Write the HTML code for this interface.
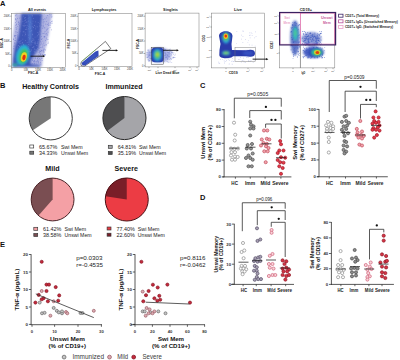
<!DOCTYPE html>
<html><head><meta charset="utf-8"><style>
html,body{margin:0;padding:0;background:#fff;}
svg{display:block;}
text{font-family:"Liberation Sans",sans-serif;}
</style></head><body>
<svg width="400" height="360" viewBox="0 0 400 360">
<defs>
<filter id="b1" x="-20%" y="-20%" width="140%" height="140%"><feGaussianBlur stdDeviation="1.2"/></filter>
<filter id="b2" x="-30%" y="-30%" width="160%" height="160%"><feGaussianBlur stdDeviation="0.8"/></filter>
<filter id="b3" x="-30%" y="-30%" width="160%" height="160%"><feGaussianBlur stdDeviation="0.5"/></filter>
<filter id="b4" x="-20%" y="-20%" width="140%" height="140%"><feGaussianBlur stdDeviation="0.9"/></filter>
</defs>
<rect width="400" height="360" fill="#fff"/>
<text x="0" y="6" font-size="7.5" font-weight="bold" text-anchor="start" fill="#111" >A</text>
<text x="0" y="88" font-size="7.5" font-weight="bold" text-anchor="start" fill="#111" >B</text>
<text x="200.1" y="88" font-size="7.5" font-weight="bold" text-anchor="start" fill="#111" >C</text>
<text x="200.1" y="200.3" font-size="7.5" font-weight="bold" text-anchor="start" fill="#111" >D</text>
<text x="0" y="247.4" font-size="7.5" font-weight="bold" text-anchor="start" fill="#111" >E</text>
<text x="28" y="11.2" font-size="4.4" font-weight="bold" textLength="18.20" lengthAdjust="spacingAndGlyphs" fill="#222">All events</text>
<g filter="url(#b1)">
<path d="M15,13.5 L52.5,13.5 L50,25 L48.75,35 L46,47 L44,53 L42.5,60 L42,66.8 L12.3,66.8 L12.3,50 L13,35 L15,20 Z" fill="#b0b4e2"/>
</g><g filter="url(#b4)">
<path d="M21.2,13.5 L42,13.5 L41,25 L40,40 L38.5,49 L34,55.5 L31,60 L30.5,64 L40,65.3 L40,66.8 L13,66.8 L13,60 L15,47 L18.7,35 L21,20 Z" fill="#3e56b6"/>
</g>
<path d="M42.5,27.6h0.7v0.7h-0.7zM45.6,33.8h0.7v0.7h-0.7zM41.5,49.9h0.7v0.7h-0.7zM38.2,62.3h0.7v0.7h-0.7zM15.6,14.6h0.7v0.7h-0.7zM17.2,41.5h0.7v0.7h-0.7zM49.4,14.0h0.7v0.7h-0.7zM42.5,40.8h0.7v0.7h-0.7zM39.6,55.4h0.7v0.7h-0.7zM40.9,56.2h0.7v0.7h-0.7zM15.2,25.4h0.7v0.7h-0.7zM17.7,40.7h0.7v0.7h-0.7zM43.4,20.8h0.7v0.7h-0.7zM38.3,33.3h0.7v0.7h-0.7zM41.1,50.5h0.7v0.7h-0.7zM33.6,57.8h0.7v0.7h-0.7zM16.3,23.7h0.7v0.7h-0.7zM14.4,35.3h0.7v0.7h-0.7zM50.2,22.9h0.7v0.7h-0.7zM44.4,32.8h0.7v0.7h-0.7zM44.9,54.5h0.7v0.7h-0.7zM32.3,58.7h0.7v0.7h-0.7zM19.3,28.9h0.7v0.7h-0.7zM17.7,41.3h0.7v0.7h-0.7zM50.1,24.7h0.7v0.7h-0.7zM41.0,38.8h0.7v0.7h-0.7zM44.2,54.3h0.7v0.7h-0.7zM36.6,60.7h0.7v0.7h-0.7zM15.2,19.1h0.7v0.7h-0.7zM17.0,41.2h0.7v0.7h-0.7zM42.9,22.8h0.7v0.7h-0.7zM45.0,40.1h0.7v0.7h-0.7zM40.6,49.8h0.7v0.7h-0.7zM36.6,62.2h0.7v0.7h-0.7zM18.1,22.3h0.7v0.7h-0.7zM15.4,35.4h0.7v0.7h-0.7zM41.5,25.3h0.7v0.7h-0.7zM47.8,38.9h0.7v0.7h-0.7zM40.8,46.9h0.7v0.7h-0.7zM36.5,63.9h0.7v0.7h-0.7zM19.6,25.3h0.7v0.7h-0.7zM17.3,38.5h0.7v0.7h-0.7zM46.7,29.2h0.7v0.7h-0.7zM43.8,36.9h0.7v0.7h-0.7zM39.9,51.0h0.7v0.7h-0.7zM41.5,56.0h0.7v0.7h-0.7zM19.7,31.2h0.7v0.7h-0.7zM17.4,46.1h0.7v0.7h-0.7zM49.9,22.3h0.7v0.7h-0.7zM43.6,36.4h0.7v0.7h-0.7zM38.4,54.6h0.7v0.7h-0.7zM37.3,57.6h0.7v0.7h-0.7zM18.0,24.2h0.7v0.7h-0.7zM14.8,40.2h0.7v0.7h-0.7zM46.9,24.0h0.7v0.7h-0.7zM44.1,36.9h0.7v0.7h-0.7zM38.2,47.5h0.7v0.7h-0.7zM32.9,60.7h0.7v0.7h-0.7zM20.2,30.8h0.7v0.7h-0.7zM17.0,47.2h0.7v0.7h-0.7zM43.8,27.5h0.7v0.7h-0.7zM44.7,31.2h0.7v0.7h-0.7zM38.1,45.2h0.7v0.7h-0.7zM39.3,58.0h0.7v0.7h-0.7zM15.7,27.1h0.7v0.7h-0.7zM14.7,36.0h0.7v0.7h-0.7zM42.8,22.4h0.7v0.7h-0.7zM39.7,34.1h0.7v0.7h-0.7zM43.0,50.0h0.7v0.7h-0.7zM34.5,59.8h0.7v0.7h-0.7zM15.1,22.1h0.7v0.7h-0.7zM15.1,37.8h0.7v0.7h-0.7zM42.2,28.4h0.7v0.7h-0.7zM43.1,33.1h0.7v0.7h-0.7zM42.2,54.0h0.7v0.7h-0.7zM31.2,56.1h0.7v0.7h-0.7zM15.9,29.1h0.7v0.7h-0.7zM13.8,45.6h0.7v0.7h-0.7zM48.5,22.7h0.7v0.7h-0.7zM40.2,44.6h0.7v0.7h-0.7zM43.6,50.7h0.7v0.7h-0.7zM33.5,61.2h0.7v0.7h-0.7zM17.4,26.1h0.7v0.7h-0.7zM14.6,44.5h0.7v0.7h-0.7zM41.6,18.8h0.7v0.7h-0.7zM47.7,43.1h0.7v0.7h-0.7zM40.1,54.4h0.7v0.7h-0.7zM34.4,63.5h0.7v0.7h-0.7zM19.5,22.7h0.7v0.7h-0.7zM14.3,35.1h0.7v0.7h-0.7zM50.7,14.6h0.7v0.7h-0.7zM46.2,44.4h0.7v0.7h-0.7zM42.0,46.9h0.7v0.7h-0.7zM40.5,63.8h0.7v0.7h-0.7zM19.2,24.7h0.7v0.7h-0.7zM14.9,40.2h0.7v0.7h-0.7zM43.3,24.8h0.7v0.7h-0.7zM42.3,32.9h0.7v0.7h-0.7zM38.7,52.3h0.7v0.7h-0.7zM34.3,60.0h0.7v0.7h-0.7zM17.0,32.3h0.7v0.7h-0.7zM17.5,35.3h0.7v0.7h-0.7zM43.2,19.2h0.7v0.7h-0.7zM47.9,41.7h0.7v0.7h-0.7zM40.4,47.3h0.7v0.7h-0.7zM38.4,62.7h0.7v0.7h-0.7zM20.6,21.2h0.7v0.7h-0.7zM17.4,45.3h0.7v0.7h-0.7zM46.3,29.8h0.7v0.7h-0.7zM40.3,40.9h0.7v0.7h-0.7zM38.6,46.9h0.7v0.7h-0.7zM41.0,57.7h0.7v0.7h-0.7zM19.6,26.6h0.7v0.7h-0.7zM17.2,40.5h0.7v0.7h-0.7zM44.7,18.7h0.7v0.7h-0.7zM46.7,39.1h0.7v0.7h-0.7zM44.7,54.8h0.7v0.7h-0.7zM32.5,60.4h0.7v0.7h-0.7zM15.6,14.8h0.7v0.7h-0.7zM13.4,48.0h0.7v0.7h-0.7zM49.7,27.3h0.7v0.7h-0.7zM41.4,39.2h0.7v0.7h-0.7zM43.5,49.2h0.7v0.7h-0.7zM37.3,57.8h0.7v0.7h-0.7zM15.5,19.6h0.7v0.7h-0.7zM17.5,43.5h0.7v0.7h-0.7zM51.2,21.3h0.7v0.7h-0.7zM40.8,41.8h0.7v0.7h-0.7zM43.8,45.1h0.7v0.7h-0.7zM38.4,56.7h0.7v0.7h-0.7zM15.7,32.6h0.7v0.7h-0.7zM13.2,38.6h0.7v0.7h-0.7zM51.9,20.7h0.7v0.7h-0.7zM39.2,32.5h0.7v0.7h-0.7zM39.7,53.2h0.7v0.7h-0.7zM32.1,63.3h0.7v0.7h-0.7zM17.3,34.4h0.7v0.7h-0.7zM17.5,39.4h0.7v0.7h-0.7zM43.8,21.6h0.7v0.7h-0.7zM39.0,39.8h0.7v0.7h-0.7zM38.3,45.1h0.7v0.7h-0.7zM41.8,58.4h0.7v0.7h-0.7zM18.6,23.4h0.7v0.7h-0.7zM14.6,35.9h0.7v0.7h-0.7zM51.0,29.5h0.7v0.7h-0.7zM47.7,31.7h0.7v0.7h-0.7zM39.5,51.8h0.7v0.7h-0.7zM41.8,60.3h0.7v0.7h-0.7zM19.1,27.9h0.7v0.7h-0.7zM14.3,43.1h0.7v0.7h-0.7zM44.4,17.9h0.7v0.7h-0.7zM38.8,34.2h0.7v0.7h-0.7zM44.9,49.9h0.7v0.7h-0.7zM38.2,61.1h0.7v0.7h-0.7zM20.6,22.2h0.7v0.7h-0.7zM14.5,39.9h0.7v0.7h-0.7zM44.5,27.6h0.7v0.7h-0.7zM46.9,34.5h0.7v0.7h-0.7zM40.3,51.0h0.7v0.7h-0.7zM37.4,60.8h0.7v0.7h-0.7zM16.5,14.4h0.7v0.7h-0.7zM14.2,36.1h0.7v0.7h-0.7zM47.1,15.1h0.7v0.7h-0.7zM38.8,39.5h0.7v0.7h-0.7zM40.0,53.7h0.7v0.7h-0.7zM36.4,62.9h0.7v0.7h-0.7zM15.9,24.5h0.7v0.7h-0.7zM17.0,36.2h0.7v0.7h-0.7zM51.4,16.8h0.7v0.7h-0.7zM45.8,44.8h0.7v0.7h-0.7zM43.8,48.5h0.7v0.7h-0.7zM32.2,60.1h0.7v0.7h-0.7zM20.5,20.2h0.7v0.7h-0.7zM17.5,37.1h0.7v0.7h-0.7zM51.0,14.5h0.7v0.7h-0.7zM41.2,43.5h0.7v0.7h-0.7zM43.6,55.0h0.7v0.7h-0.7zM40.2,62.0h0.7v0.7h-0.7zM19.1,17.7h0.7v0.7h-0.7zM15.2,37.4h0.7v0.7h-0.7zM48.9,24.7h0.7v0.7h-0.7zM40.5,31.0h0.7v0.7h-0.7zM44.7,53.9h0.7v0.7h-0.7zM37.0,60.3h0.7v0.7h-0.7zM20.1,23.5h0.7v0.7h-0.7zM15.0,40.1h0.7v0.7h-0.7zM43.8,14.4h0.7v0.7h-0.7zM44.5,36.3h0.7v0.7h-0.7zM42.0,45.7h0.7v0.7h-0.7zM34.9,57.1h0.7v0.7h-0.7zM15.8,19.4h0.7v0.7h-0.7zM17.1,41.0h0.7v0.7h-0.7zM45.4,23.8h0.7v0.7h-0.7zM40.3,30.1h0.7v0.7h-0.7zM41.7,50.5h0.7v0.7h-0.7zM38.1,59.5h0.7v0.7h-0.7zM19.1,29.4h0.7v0.7h-0.7zM14.2,42.4h0.7v0.7h-0.7zM46.3,17.6h0.7v0.7h-0.7zM42.1,38.4h0.7v0.7h-0.7zM44.3,55.1h0.7v0.7h-0.7zM34.0,61.2h0.7v0.7h-0.7zM15.3,15.5h0.7v0.7h-0.7zM15.6,48.2h0.7v0.7h-0.7zM42.8,26.3h0.7v0.7h-0.7zM46.8,34.7h0.7v0.7h-0.7zM42.8,54.3h0.7v0.7h-0.7zM35.1,61.6h0.7v0.7h-0.7zM19.4,26.5h0.7v0.7h-0.7zM17.3,48.4h0.7v0.7h-0.7zM51.6,23.1h0.7v0.7h-0.7zM39.8,33.8h0.7v0.7h-0.7zM39.5,51.3h0.7v0.7h-0.7zM39.3,56.4h0.7v0.7h-0.7zM19.1,29.1h0.7v0.7h-0.7zM14.7,42.7h0.7v0.7h-0.7zM42.8,25.7h0.7v0.7h-0.7zM38.4,44.7h0.7v0.7h-0.7zM43.7,51.9h0.7v0.7h-0.7zM33.9,63.3h0.7v0.7h-0.7zM20.8,16.9h0.7v0.7h-0.7zM16.9,47.6h0.7v0.7h-0.7zM48.3,25.2h0.7v0.7h-0.7zM42.5,43.9h0.7v0.7h-0.7zM44.8,49.2h0.7v0.7h-0.7zM39.8,59.5h0.7v0.7h-0.7zM16.0,20.8h0.7v0.7h-0.7zM13.6,48.6h0.7v0.7h-0.7zM51.6,15.9h0.7v0.7h-0.7zM44.0,36.1h0.7v0.7h-0.7zM38.8,48.3h0.7v0.7h-0.7zM33.7,62.0h0.7v0.7h-0.7zM15.0,18.0h0.7v0.7h-0.7zM15.2,35.3h0.7v0.7h-0.7zM47.9,23.7h0.7v0.7h-0.7zM46.4,33.1h0.7v0.7h-0.7zM40.0,51.0h0.7v0.7h-0.7zM34.0,60.7h0.7v0.7h-0.7zM16.5,28.4h0.7v0.7h-0.7zM17.0,47.1h0.7v0.7h-0.7zM51.7,22.7h0.7v0.7h-0.7zM42.9,42.8h0.7v0.7h-0.7zM43.4,51.3h0.7v0.7h-0.7zM35.2,58.3h0.7v0.7h-0.7zM15.6,31.0h0.7v0.7h-0.7zM13.6,46.2h0.7v0.7h-0.7zM47.0,29.4h0.7v0.7h-0.7zM45.6,44.6h0.7v0.7h-0.7zM39.0,50.5h0.7v0.7h-0.7zM37.3,58.5h0.7v0.7h-0.7zM18.0,21.5h0.7v0.7h-0.7zM15.6,35.0h0.7v0.7h-0.7zM45.9,21.2h0.7v0.7h-0.7zM41.0,36.0h0.7v0.7h-0.7zM43.5,52.5h0.7v0.7h-0.7zM36.4,61.2h0.7v0.7h-0.7zM17.3,18.3h0.7v0.7h-0.7zM13.0,39.2h0.7v0.7h-0.7zM47.6,28.1h0.7v0.7h-0.7zM46.3,37.7h0.7v0.7h-0.7z" fill="#6470c8" opacity="0.75"/>
<path d="M27.8,17.9h0.8v0.8h-0.8zM31.0,40.9h0.8v0.8h-0.8zM31.6,23.5h0.8v0.8h-0.8zM19.2,46.1h0.8v0.8h-0.8zM22.7,25.3h0.8v0.8h-0.8zM19.4,41.1h0.8v0.8h-0.8zM29.6,35.5h0.8v0.8h-0.8zM20.5,42.7h0.8v0.8h-0.8zM33.3,38.6h0.8v0.8h-0.8zM29.5,44.8h0.8v0.8h-0.8zM39.6,15.2h0.8v0.8h-0.8zM35.2,43.5h0.8v0.8h-0.8zM24.6,17.1h0.8v0.8h-0.8zM24.2,49.8h0.8v0.8h-0.8zM25.3,29.1h0.8v0.8h-0.8zM30.8,44.5h0.8v0.8h-0.8zM31.9,15.6h0.8v0.8h-0.8zM19.2,42.5h0.8v0.8h-0.8zM34.2,25.1h0.8v0.8h-0.8zM24.3,47.0h0.8v0.8h-0.8zM30.2,21.8h0.8v0.8h-0.8zM33.9,48.4h0.8v0.8h-0.8zM26.4,28.9h0.8v0.8h-0.8zM28.5,50.5h0.8v0.8h-0.8zM35.1,21.5h0.8v0.8h-0.8zM37.6,41.4h0.8v0.8h-0.8zM29.5,33.7h0.8v0.8h-0.8zM21.0,45.9h0.8v0.8h-0.8zM22.7,31.4h0.8v0.8h-0.8zM33.3,46.9h0.8v0.8h-0.8zM37.8,22.2h0.8v0.8h-0.8zM31.9,47.1h0.8v0.8h-0.8zM32.4,25.9h0.8v0.8h-0.8zM34.8,51.3h0.8v0.8h-0.8zM30.5,31.3h0.8v0.8h-0.8zM19.2,48.4h0.8v0.8h-0.8zM33.6,39.8h0.8v0.8h-0.8zM34.4,43.4h0.8v0.8h-0.8zM28.9,31.4h0.8v0.8h-0.8zM18.5,45.5h0.8v0.8h-0.8zM25.0,17.0h0.8v0.8h-0.8zM19.2,49.2h0.8v0.8h-0.8zM24.3,20.4h0.8v0.8h-0.8zM25.8,50.5h0.8v0.8h-0.8zM23.5,25.7h0.8v0.8h-0.8zM29.0,50.6h0.8v0.8h-0.8zM36.7,36.5h0.8v0.8h-0.8zM23.6,45.0h0.8v0.8h-0.8zM28.5,37.0h0.8v0.8h-0.8zM37.2,41.8h0.8v0.8h-0.8zM25.2,20.0h0.8v0.8h-0.8zM22.7,45.8h0.8v0.8h-0.8zM32.6,20.8h0.8v0.8h-0.8zM18.1,45.0h0.8v0.8h-0.8zM28.6,28.7h0.8v0.8h-0.8zM37.1,48.3h0.8v0.8h-0.8zM31.3,30.1h0.8v0.8h-0.8zM31.5,40.6h0.8v0.8h-0.8zM38.2,34.3h0.8v0.8h-0.8zM35.5,49.6h0.8v0.8h-0.8zM29.1,24.4h0.8v0.8h-0.8zM20.1,47.6h0.8v0.8h-0.8zM23.1,15.8h0.8v0.8h-0.8zM22.2,41.9h0.8v0.8h-0.8zM28.1,15.4h0.8v0.8h-0.8zM18.0,41.8h0.8v0.8h-0.8zM23.8,23.5h0.8v0.8h-0.8zM18.5,50.5h0.8v0.8h-0.8zM33.1,17.9h0.8v0.8h-0.8zM23.0,44.2h0.8v0.8h-0.8zM28.6,17.2h0.8v0.8h-0.8zM35.0,51.9h0.8v0.8h-0.8zM30.4,26.6h0.8v0.8h-0.8zM19.7,41.2h0.8v0.8h-0.8zM28.2,20.9h0.8v0.8h-0.8zM34.6,41.9h0.8v0.8h-0.8zM22.4,38.7h0.8v0.8h-0.8zM28.6,41.8h0.8v0.8h-0.8zM31.8,14.7h0.8v0.8h-0.8zM28.6,51.7h0.8v0.8h-0.8zM37.5,32.1h0.8v0.8h-0.8zM23.2,44.4h0.8v0.8h-0.8zM25.0,34.1h0.8v0.8h-0.8zM28.7,49.3h0.8v0.8h-0.8zM27.9,19.8h0.8v0.8h-0.8zM34.2,51.8h0.8v0.8h-0.8zM37.3,35.0h0.8v0.8h-0.8zM34.4,48.9h0.8v0.8h-0.8zM26.1,27.5h0.8v0.8h-0.8zM25.1,40.3h0.8v0.8h-0.8zM22.5,21.3h0.8v0.8h-0.8zM23.2,48.3h0.8v0.8h-0.8zM39.2,25.6h0.8v0.8h-0.8zM36.7,51.9h0.8v0.8h-0.8zM39.2,23.5h0.8v0.8h-0.8zM22.4,42.7h0.8v0.8h-0.8zM25.5,19.3h0.8v0.8h-0.8zM30.5,50.8h0.8v0.8h-0.8zM37.1,26.5h0.8v0.8h-0.8zM31.1,49.6h0.8v0.8h-0.8zM23.5,31.2h0.8v0.8h-0.8zM36.2,49.4h0.8v0.8h-0.8zM35.5,26.4h0.8v0.8h-0.8zM21.6,49.5h0.8v0.8h-0.8zM28.0,34.8h0.8v0.8h-0.8zM37.4,44.8h0.8v0.8h-0.8zM29.2,38.6h0.8v0.8h-0.8zM32.5,42.0h0.8v0.8h-0.8zM24.3,17.9h0.8v0.8h-0.8zM36.1,49.7h0.8v0.8h-0.8zM24.6,35.5h0.8v0.8h-0.8zM37.6,47.9h0.8v0.8h-0.8zM28.3,28.3h0.8v0.8h-0.8zM20.6,40.2h0.8v0.8h-0.8zM39.5,30.9h0.8v0.8h-0.8zM28.5,51.2h0.8v0.8h-0.8zM29.8,36.7h0.8v0.8h-0.8zM34.5,42.5h0.8v0.8h-0.8zM26.5,21.6h0.8v0.8h-0.8zM22.8,47.0h0.8v0.8h-0.8zM26.7,24.9h0.8v0.8h-0.8zM20.6,50.9h0.8v0.8h-0.8zM28.4,25.9h0.8v0.8h-0.8zM29.7,50.9h0.8v0.8h-0.8zM29.6,37.9h0.8v0.8h-0.8zM28.0,46.4h0.8v0.8h-0.8zM31.4,14.5h0.8v0.8h-0.8zM26.8,42.2h0.8v0.8h-0.8zM22.1,34.8h0.8v0.8h-0.8zM21.4,45.7h0.8v0.8h-0.8zM35.1,28.5h0.8v0.8h-0.8zM24.5,46.2h0.8v0.8h-0.8zM32.0,34.4h0.8v0.8h-0.8zM20.1,46.7h0.8v0.8h-0.8zM26.5,21.2h0.8v0.8h-0.8zM33.4,46.1h0.8v0.8h-0.8zM32.1,33.8h0.8v0.8h-0.8zM36.2,45.3h0.8v0.8h-0.8zM33.0,27.1h0.8v0.8h-0.8zM28.2,48.3h0.8v0.8h-0.8zM30.1,27.9h0.8v0.8h-0.8zM27.6,51.3h0.8v0.8h-0.8zM34.6,36.8h0.8v0.8h-0.8zM36.8,43.1h0.8v0.8h-0.8zM32.1,38.5h0.8v0.8h-0.8zM34.8,41.6h0.8v0.8h-0.8zM24.2,25.5h0.8v0.8h-0.8zM19.5,42.9h0.8v0.8h-0.8zM23.3,31.4h0.8v0.8h-0.8zM33.7,50.8h0.8v0.8h-0.8zM24.8,32.6h0.8v0.8h-0.8zM31.2,41.7h0.8v0.8h-0.8zM37.9,39.2h0.8v0.8h-0.8zM22.4,51.4h0.8v0.8h-0.8zM29.2,26.7h0.8v0.8h-0.8zM37.8,50.0h0.8v0.8h-0.8zM24.9,25.2h0.8v0.8h-0.8zM28.3,44.1h0.8v0.8h-0.8zM25.5,22.3h0.8v0.8h-0.8zM32.4,40.2h0.8v0.8h-0.8z" fill="#8090d8" opacity="0.6"/>
<g filter="url(#b2)">
<ellipse cx="30" cy="29" rx="1.6" ry="16" fill="#5a88d8" opacity="0.7"/>
<ellipse cx="15" cy="64.8" rx="3" ry="1.2" fill="#30b0a0"/>
<ellipse cx="22.8" cy="55.2" rx="6.6" ry="10.4" transform="rotate(14 22.8 55.2)" fill="#27b3d6"/>
<ellipse cx="23.3" cy="56.2" rx="4.5" ry="7.6" transform="rotate(14 23.3 56.2)" fill="#43c05a"/>
</g><g filter="url(#b3)">
<ellipse cx="23.8" cy="57" rx="2.9" ry="4.8" transform="rotate(14 23.8 57)" fill="#f0d020"/>
<ellipse cx="24" cy="57.5" rx="1.6" ry="2.8" transform="rotate(14 24 57.5)" fill="#e03010"/>
</g>
<rect x="11.4" y="13.4" width="54.300000000000004" height="53.9" fill="none" stroke="#777" stroke-width="0.5"/>
<line x1="10.200000000000001" y1="66.2" x2="11.4" y2="66.2" stroke="#333" stroke-width="0.4"/>
<text x="9.8" y="67.10000000000001" font-size="2.6" font-weight="normal" text-anchor="end" fill="#333" >0</text>
<line x1="10.200000000000001" y1="54.4" x2="11.4" y2="54.4" stroke="#333" stroke-width="0.4"/>
<text x="9.8" y="55.3" font-size="2.6" font-weight="normal" text-anchor="end" fill="#333" >50K</text>
<line x1="10.200000000000001" y1="41.5" x2="11.4" y2="41.5" stroke="#333" stroke-width="0.4"/>
<text x="9.8" y="42.4" font-size="2.6" font-weight="normal" text-anchor="end" fill="#333" >100K</text>
<line x1="10.200000000000001" y1="28.7" x2="11.4" y2="28.7" stroke="#333" stroke-width="0.4"/>
<text x="9.8" y="29.599999999999998" font-size="2.6" font-weight="normal" text-anchor="end" fill="#333" >150K</text>
<line x1="10.200000000000001" y1="16.2" x2="11.4" y2="16.2" stroke="#333" stroke-width="0.4"/>
<text x="9.8" y="17.099999999999998" font-size="2.6" font-weight="normal" text-anchor="end" fill="#333" >200K</text>
<line x1="11.7" y1="67.3" x2="11.7" y2="68.5" stroke="#333" stroke-width="0.4"/>
<text x="11.7" y="71.1" font-size="2.6" font-weight="normal" text-anchor="middle" fill="#333" >0</text>
<line x1="26" y1="67.3" x2="26" y2="68.5" stroke="#333" stroke-width="0.4"/>
<text x="26" y="71.1" font-size="2.6" font-weight="normal" text-anchor="middle" fill="#333" >50K</text>
<line x1="38" y1="67.3" x2="38" y2="68.5" stroke="#333" stroke-width="0.4"/>
<text x="38" y="71.1" font-size="2.6" font-weight="normal" text-anchor="middle" fill="#333" >100K</text>
<line x1="50" y1="67.3" x2="50" y2="68.5" stroke="#333" stroke-width="0.4"/>
<text x="50" y="71.1" font-size="2.6" font-weight="normal" text-anchor="middle" fill="#333" >150K</text>
<line x1="62.7" y1="67.3" x2="62.7" y2="68.5" stroke="#333" stroke-width="0.4"/>
<text x="62.7" y="71.1" font-size="2.6" font-weight="normal" text-anchor="middle" fill="#333" >200K</text>
<text transform="translate(3.2,43.2) rotate(-90)" font-size="3.2" font-weight="bold" text-anchor="middle" fill="#111">SSC-A</text>
<text x="33.1" y="74.3" font-size="3.4" font-weight="bold" text-anchor="middle" fill="#111" >FSC-A</text>
<line x1="30.5" y1="56.2" x2="43.5" y2="56.2" stroke="#111" stroke-width="0.9"/>
<path d="M45,56.2 L42.8,55.1 L42.8,57.300000000000004 Z" fill="#111"/>
<text x="91.65" y="11.2" font-size="4.4" font-weight="bold" textLength="24.85" lengthAdjust="spacingAndGlyphs" fill="#222">Lymphocytes</text>
<path d="M81.4,61.8 L105.4,41.4 L110.8,48.6 L84.4,66.2 L81.5,66 L80.8,64 Z" fill="#fff" stroke="#222" stroke-width="0.6"/>
<g filter="url(#b3)"><path d="M81.6,63 L95.5,51.6 L98.4,50.6 L98.6,56 L94,59.2 L85,65.6 L82.5,65.2 Z" fill="#3048b8"/></g>
<g filter="url(#b2)"><path d="M84,62.5 L95,54 L96.5,55 L86,63.5 Z" fill="#4868c8" opacity="0.6"/></g>
<line x1="81.6" y1="61.4" x2="96" y2="49.3" stroke="#7cc060" stroke-width="0.6"/>
<rect x="78.1" y="13.6" width="53.900000000000006" height="52.99999999999999" fill="none" stroke="#777" stroke-width="0.5"/>
<line x1="76.89999999999999" y1="65.6" x2="78.1" y2="65.6" stroke="#333" stroke-width="0.4"/>
<text x="76.5" y="66.5" font-size="2.6" font-weight="normal" text-anchor="end" fill="#333" >0</text>
<line x1="76.89999999999999" y1="53.4" x2="78.1" y2="53.4" stroke="#333" stroke-width="0.4"/>
<text x="76.5" y="54.3" font-size="2.6" font-weight="normal" text-anchor="end" fill="#333" >50K</text>
<line x1="76.89999999999999" y1="41" x2="78.1" y2="41" stroke="#333" stroke-width="0.4"/>
<text x="76.5" y="41.9" font-size="2.6" font-weight="normal" text-anchor="end" fill="#333" >100K</text>
<line x1="76.89999999999999" y1="28.7" x2="78.1" y2="28.7" stroke="#333" stroke-width="0.4"/>
<text x="76.5" y="29.599999999999998" font-size="2.6" font-weight="normal" text-anchor="end" fill="#333" >150K</text>
<line x1="76.89999999999999" y1="16.3" x2="78.1" y2="16.3" stroke="#333" stroke-width="0.4"/>
<text x="76.5" y="17.2" font-size="2.6" font-weight="normal" text-anchor="end" fill="#333" >200K</text>
<line x1="79" y1="66.6" x2="79" y2="67.8" stroke="#333" stroke-width="0.4"/>
<text x="79" y="70.39999999999999" font-size="2.6" font-weight="normal" text-anchor="middle" fill="#333" >0</text>
<line x1="91.5" y1="66.6" x2="91.5" y2="67.8" stroke="#333" stroke-width="0.4"/>
<text x="91.5" y="70.39999999999999" font-size="2.6" font-weight="normal" text-anchor="middle" fill="#333" >50K</text>
<line x1="104.5" y1="66.6" x2="104.5" y2="67.8" stroke="#333" stroke-width="0.4"/>
<text x="104.5" y="70.39999999999999" font-size="2.6" font-weight="normal" text-anchor="middle" fill="#333" >100K</text>
<line x1="117" y1="66.6" x2="117" y2="67.8" stroke="#333" stroke-width="0.4"/>
<text x="117" y="70.39999999999999" font-size="2.6" font-weight="normal" text-anchor="middle" fill="#333" >150K</text>
<line x1="130" y1="66.6" x2="130" y2="67.8" stroke="#333" stroke-width="0.4"/>
<text x="130" y="70.39999999999999" font-size="2.6" font-weight="normal" text-anchor="middle" fill="#333" >200K</text>
<text transform="translate(70.3,43.5) rotate(-90)" font-size="3.2" font-weight="bold" text-anchor="middle" fill="#111">FSC-H</text>
<text x="100" y="74.6" font-size="3.4" font-weight="bold" text-anchor="middle" fill="#111" >FSC-A</text>
<line x1="102.4" y1="50.4" x2="116.5" y2="50.4" stroke="#111" stroke-width="0.9"/>
<path d="M118,50.4 L115.8,49.3 L115.8,51.5 Z" fill="#111"/>
<text x="163.1" y="11.2" font-size="4.4" font-weight="bold" textLength="14.90" lengthAdjust="spacingAndGlyphs" fill="#222">Singlets</text>
<g filter="url(#b1)"><ellipse cx="159" cy="55" rx="12.5" ry="7.5" fill="#a8b0e4"/></g>
<path d="M151.3,60.4h0.7v0.7h-0.7zM164.0,49.2h0.7v0.7h-0.7zM173.4,57.4h0.7v0.7h-0.7zM149.8,52.7h0.7v0.7h-0.7zM168.7,56.5h0.7v0.7h-0.7zM170.8,51.6h0.7v0.7h-0.7zM148.7,53.7h0.7v0.7h-0.7zM169.6,61.9h0.7v0.7h-0.7zM174.5,55.4h0.7v0.7h-0.7zM148.7,52.2h0.7v0.7h-0.7zM163.8,48.4h0.7v0.7h-0.7zM169.6,53.2h0.7v0.7h-0.7zM148.4,59.7h0.7v0.7h-0.7zM168.0,55.8h0.7v0.7h-0.7zM167.4,50.2h0.7v0.7h-0.7zM148.1,50.6h0.7v0.7h-0.7zM167.8,62.0h0.7v0.7h-0.7zM171.7,51.8h0.7v0.7h-0.7zM151.0,58.6h0.7v0.7h-0.7zM169.7,60.7h0.7v0.7h-0.7zM172.6,57.9h0.7v0.7h-0.7zM148.3,60.8h0.7v0.7h-0.7zM171.7,50.3h0.7v0.7h-0.7zM172.5,57.2h0.7v0.7h-0.7zM148.8,55.4h0.7v0.7h-0.7zM167.7,60.9h0.7v0.7h-0.7zM170.0,58.3h0.7v0.7h-0.7zM148.3,59.6h0.7v0.7h-0.7zM171.1,54.5h0.7v0.7h-0.7zM170.7,59.2h0.7v0.7h-0.7zM150.1,54.8h0.7v0.7h-0.7zM165.4,52.5h0.7v0.7h-0.7zM172.0,51.7h0.7v0.7h-0.7zM151.0,52.2h0.7v0.7h-0.7zM171.2,52.3h0.7v0.7h-0.7zM174.6,57.1h0.7v0.7h-0.7zM149.0,55.2h0.7v0.7h-0.7zM169.0,56.2h0.7v0.7h-0.7zM168.1,52.1h0.7v0.7h-0.7zM149.1,60.2h0.7v0.7h-0.7zM168.8,49.1h0.7v0.7h-0.7zM173.2,57.3h0.7v0.7h-0.7zM151.0,51.3h0.7v0.7h-0.7zM169.8,48.8h0.7v0.7h-0.7zM171.5,52.7h0.7v0.7h-0.7zM147.6,59.5h0.7v0.7h-0.7zM164.4,55.3h0.7v0.7h-0.7zM173.5,52.4h0.7v0.7h-0.7zM147.6,59.6h0.7v0.7h-0.7zM167.1,58.0h0.7v0.7h-0.7zM165.3,53.6h0.7v0.7h-0.7zM147.4,57.1h0.7v0.7h-0.7zM164.2,61.4h0.7v0.7h-0.7zM165.3,57.3h0.7v0.7h-0.7zM146.6,52.1h0.7v0.7h-0.7zM170.4,50.2h0.7v0.7h-0.7zM166.8,56.9h0.7v0.7h-0.7zM148.4,49.5h0.7v0.7h-0.7zM171.9,50.1h0.7v0.7h-0.7zM165.4,53.4h0.7v0.7h-0.7zM149.6,57.9h0.7v0.7h-0.7zM164.5,52.7h0.7v0.7h-0.7zM165.3,54.5h0.7v0.7h-0.7zM150.3,57.9h0.7v0.7h-0.7zM171.2,58.6h0.7v0.7h-0.7zM173.6,57.1h0.7v0.7h-0.7zM148.9,51.7h0.7v0.7h-0.7zM169.1,52.4h0.7v0.7h-0.7zM166.0,54.5h0.7v0.7h-0.7zM150.9,50.5h0.7v0.7h-0.7zM168.5,53.5h0.7v0.7h-0.7zM170.1,51.4h0.7v0.7h-0.7zM151.3,52.1h0.7v0.7h-0.7zM168.7,53.9h0.7v0.7h-0.7zM165.2,55.6h0.7v0.7h-0.7zM147.2,49.7h0.7v0.7h-0.7zM163.8,50.3h0.7v0.7h-0.7zM166.0,56.4h0.7v0.7h-0.7zM149.0,60.8h0.7v0.7h-0.7zM171.4,61.9h0.7v0.7h-0.7zM167.3,54.4h0.7v0.7h-0.7zM147.8,56.1h0.7v0.7h-0.7zM168.8,59.2h0.7v0.7h-0.7zM172.1,52.6h0.7v0.7h-0.7zM148.6,55.3h0.7v0.7h-0.7zM163.5,48.5h0.7v0.7h-0.7zM169.1,51.1h0.7v0.7h-0.7zM150.1,51.9h0.7v0.7h-0.7zM164.3,50.5h0.7v0.7h-0.7zM167.3,52.2h0.7v0.7h-0.7zM149.1,54.6h0.7v0.7h-0.7zM166.1,57.0h0.7v0.7h-0.7zM167.1,59.1h0.7v0.7h-0.7zM151.3,57.7h0.7v0.7h-0.7zM167.2,55.2h0.7v0.7h-0.7zM170.8,50.5h0.7v0.7h-0.7zM148.6,55.3h0.7v0.7h-0.7zM165.0,49.3h0.7v0.7h-0.7zM173.0,53.7h0.7v0.7h-0.7zM149.1,60.1h0.7v0.7h-0.7zM168.7,52.1h0.7v0.7h-0.7zM174.8,53.7h0.7v0.7h-0.7zM146.6,57.2h0.7v0.7h-0.7zM164.4,52.3h0.7v0.7h-0.7zM173.4,56.7h0.7v0.7h-0.7zM146.6,54.4h0.7v0.7h-0.7zM167.0,54.8h0.7v0.7h-0.7zM167.1,55.9h0.7v0.7h-0.7zM146.9,52.4h0.7v0.7h-0.7zM166.7,61.1h0.7v0.7h-0.7z" fill="#6a78cc" opacity="0.75"/>
<g filter="url(#b3)">
<rect x="151.5" y="47.6" width="12" height="14.6" rx="3.5" fill="#2f40b0"/>
</g><g filter="url(#b2)">
<ellipse cx="157.4" cy="55" rx="4.4" ry="6.2" fill="#27a8d6"/>
<ellipse cx="157.4" cy="54.8" rx="2.7" ry="3.8" fill="#58c458"/>
<ellipse cx="157.4" cy="54.6" rx="1.3" ry="1.8" fill="#c8e040"/>
</g>
<rect x="151.2" y="47.3" width="12.4" height="16.9" fill="none" stroke="#333" stroke-width="0.45"/>
<rect x="145.1" y="13.1" width="53.900000000000006" height="53.800000000000004" fill="none" stroke="#777" stroke-width="0.5"/>
<line x1="143.9" y1="65.8" x2="145.1" y2="65.8" stroke="#333" stroke-width="0.4"/>
<text x="143.5" y="66.7" font-size="2.6" font-weight="normal" text-anchor="end" fill="#333" >0</text>
<line x1="143.9" y1="53.5" x2="145.1" y2="53.5" stroke="#333" stroke-width="0.4"/>
<text x="143.5" y="54.4" font-size="2.6" font-weight="normal" text-anchor="end" fill="#333" >50K</text>
<line x1="143.9" y1="41" x2="145.1" y2="41" stroke="#333" stroke-width="0.4"/>
<text x="143.5" y="41.9" font-size="2.6" font-weight="normal" text-anchor="end" fill="#333" >100K</text>
<line x1="143.9" y1="28.7" x2="145.1" y2="28.7" stroke="#333" stroke-width="0.4"/>
<text x="143.5" y="29.599999999999998" font-size="2.6" font-weight="normal" text-anchor="end" fill="#333" >150K</text>
<line x1="143.9" y1="16.2" x2="145.1" y2="16.2" stroke="#333" stroke-width="0.4"/>
<text x="143.5" y="17.099999999999998" font-size="2.6" font-weight="normal" text-anchor="end" fill="#333" >200K</text>
<line x1="149" y1="66.9" x2="149" y2="68.10000000000001" stroke="#333" stroke-width="0.4"/>
<text x="149" y="70.7" font-size="2.4" font-weight="normal" text-anchor="middle" fill="#333" >-10³</text>
<line x1="158" y1="66.9" x2="158" y2="68.10000000000001" stroke="#333" stroke-width="0.4"/>
<text x="158" y="70.7" font-size="2.4" font-weight="normal" text-anchor="middle" fill="#333" >0</text>
<line x1="175" y1="66.9" x2="175" y2="68.10000000000001" stroke="#333" stroke-width="0.4"/>
<text x="175" y="70.7" font-size="2.4" font-weight="normal" text-anchor="middle" fill="#333" >10³</text>
<line x1="190" y1="66.9" x2="190" y2="68.10000000000001" stroke="#333" stroke-width="0.4"/>
<text x="190" y="70.7" font-size="2.4" font-weight="normal" text-anchor="middle" fill="#333" >10⁴</text>
<line x1="197" y1="66.9" x2="197" y2="68.10000000000001" stroke="#333" stroke-width="0.4"/>
<text x="197" y="70.7" font-size="2.4" font-weight="normal" text-anchor="middle" fill="#333" >10⁵</text>
<text transform="translate(138.6,44) rotate(-90)" font-size="3.2" font-weight="bold" text-anchor="middle" fill="#111">FSC-A</text>
<text x="155.4" y="74.3" font-size="3.8" font-weight="bold" textLength="24.00" lengthAdjust="spacingAndGlyphs" fill="#222">Live Dead Blue</text>
<line x1="163" y1="50.3" x2="177.3" y2="50.3" stroke="#111" stroke-width="0.9"/>
<path d="M178.8,50.3 L176.60000000000002,49.199999999999996 L176.60000000000002,51.4 Z" fill="#111"/>
<text x="233.9" y="11.2" font-size="4.4" font-weight="bold" textLength="8.20" lengthAdjust="spacingAndGlyphs" fill="#222">Live</text>
<path d="M241.2,38.7h0.7v0.7h-0.7zM223.9,61.6h0.7v0.7h-0.7zM247.8,57.3h0.7v0.7h-0.7zM236.3,43.4h0.7v0.7h-0.7zM222.1,59.4h0.7v0.7h-0.7zM255.9,59.4h0.7v0.7h-0.7zM254.4,37.6h0.7v0.7h-0.7zM228.2,58.9h0.7v0.7h-0.7zM248.0,61.3h0.7v0.7h-0.7zM247.5,41.9h0.7v0.7h-0.7zM228.7,58.4h0.7v0.7h-0.7zM250.7,60.0h0.7v0.7h-0.7zM242.6,30.5h0.7v0.7h-0.7zM231.8,60.8h0.7v0.7h-0.7zM249.8,61.4h0.7v0.7h-0.7zM251.7,44.7h0.7v0.7h-0.7zM224.3,62.8h0.7v0.7h-0.7zM243.8,61.7h0.7v0.7h-0.7zM255.3,31.6h0.7v0.7h-0.7zM220.2,59.3h0.7v0.7h-0.7zM255.2,59.2h0.7v0.7h-0.7zM249.8,34.8h0.7v0.7h-0.7zM226.1,60.3h0.7v0.7h-0.7zM241.7,59.9h0.7v0.7h-0.7zM248.9,44.5h0.7v0.7h-0.7zM228.9,63.6h0.7v0.7h-0.7zM252.8,62.0h0.7v0.7h-0.7zM250.8,32.6h0.7v0.7h-0.7zM231.8,63.8h0.7v0.7h-0.7zM253.9,59.8h0.7v0.7h-0.7zM251.7,33.4h0.7v0.7h-0.7zM231.3,61.4h0.7v0.7h-0.7zM240.3,57.3h0.7v0.7h-0.7zM254.8,45.8h0.7v0.7h-0.7zM219.4,62.8h0.7v0.7h-0.7zM243.0,57.8h0.7v0.7h-0.7zM242.5,42.3h0.7v0.7h-0.7zM232.0,58.3h0.7v0.7h-0.7zM247.5,57.2h0.7v0.7h-0.7zM251.8,35.3h0.7v0.7h-0.7zM232.1,63.9h0.7v0.7h-0.7zM245.1,62.0h0.7v0.7h-0.7zM242.8,31.2h0.7v0.7h-0.7zM227.6,58.2h0.7v0.7h-0.7zM238.3,59.0h0.7v0.7h-0.7zM249.4,32.5h0.7v0.7h-0.7zM218.7,63.2h0.7v0.7h-0.7zM240.9,61.8h0.7v0.7h-0.7zM255.7,36.0h0.7v0.7h-0.7zM225.4,61.1h0.7v0.7h-0.7zM248.2,60.0h0.7v0.7h-0.7zM248.3,39.9h0.7v0.7h-0.7zM233.0,61.0h0.7v0.7h-0.7zM243.5,60.6h0.7v0.7h-0.7zM241.2,34.8h0.7v0.7h-0.7zM233.6,61.1h0.7v0.7h-0.7zM246.1,57.1h0.7v0.7h-0.7zM245.1,39.3h0.7v0.7h-0.7zM218.3,61.7h0.7v0.7h-0.7zM247.9,57.3h0.7v0.7h-0.7zM249.8,37.5h0.7v0.7h-0.7zM228.9,60.1h0.7v0.7h-0.7zM249.6,60.7h0.7v0.7h-0.7zM236.5,31.0h0.7v0.7h-0.7zM228.8,63.8h0.7v0.7h-0.7zM239.5,59.3h0.7v0.7h-0.7zM249.0,35.1h0.7v0.7h-0.7zM223.8,59.9h0.7v0.7h-0.7zM242.1,60.0h0.7v0.7h-0.7zM242.6,36.0h0.7v0.7h-0.7z" fill="#aab0e0" opacity="0.75"/>
<g filter="url(#b3)">
<path d="M219,36 C219,29.6 232.5,29.6 232.5,36 L231.5,44 L232,50 L246,50.3 C251,49 255,49.5 255,53.2 C255,57 251,57.2 246,56.3 L233,56.3 C232,57.8 229,58.2 226,58.2 C222,58.2 219.5,57.5 219.3,55 L219.5,50 L220.5,44 Z" fill="#2a3aaa"/>
</g><g filter="url(#b2)">
<ellipse cx="226" cy="37.8" rx="3.9" ry="5.6" fill="#28a8d8"/>
<ellipse cx="225.9" cy="36.8" rx="2.9" ry="3.9" fill="#58c060"/>
</g><g filter="url(#b3)">
<ellipse cx="225.8" cy="36.3" rx="2.1" ry="2.7" fill="#f0c820"/>
<ellipse cx="225.8" cy="36" rx="1.3" ry="1.6" fill="#e83010"/>
</g><g filter="url(#b2)">
<ellipse cx="226" cy="53" rx="4" ry="2" fill="#30b8c8"/>
<ellipse cx="226" cy="53" rx="2.6" ry="1.2" fill="#80d050"/>
<ellipse cx="248" cy="53.3" rx="5.5" ry="2.2" fill="#3c58c8" opacity="0.8"/>
</g>
<rect x="235" y="47.3" width="20.7" height="14" fill="none" stroke="#777" stroke-width="0.45"/>
<rect x="211.65" y="13.1" width="52.849999999999994" height="54.800000000000004" fill="none" stroke="#777" stroke-width="0.5"/>
<line x1="210.45000000000002" y1="17" x2="211.65" y2="17" stroke="#333" stroke-width="0.4"/>
<text x="210.05" y="17.9" font-size="2.4" font-weight="normal" text-anchor="end" fill="#333" >10⁵</text>
<line x1="210.45000000000002" y1="27" x2="211.65" y2="27" stroke="#333" stroke-width="0.4"/>
<text x="210.05" y="27.9" font-size="2.4" font-weight="normal" text-anchor="end" fill="#333" >10⁴</text>
<line x1="210.45000000000002" y1="37" x2="211.65" y2="37" stroke="#333" stroke-width="0.4"/>
<text x="210.05" y="37.9" font-size="2.4" font-weight="normal" text-anchor="end" fill="#333" >10³</text>
<line x1="210.45000000000002" y1="50.5" x2="211.65" y2="50.5" stroke="#333" stroke-width="0.4"/>
<text x="210.05" y="51.4" font-size="2.4" font-weight="normal" text-anchor="end" fill="#333" >0</text>
<line x1="210.45000000000002" y1="57" x2="211.65" y2="57" stroke="#333" stroke-width="0.4"/>
<text x="210.05" y="57.9" font-size="2.4" font-weight="normal" text-anchor="end" fill="#333" >-10³</text>
<line x1="226" y1="67.9" x2="226" y2="69.10000000000001" stroke="#333" stroke-width="0.4"/>
<text x="226" y="71.7" font-size="2.4" font-weight="normal" text-anchor="middle" fill="#333" >0</text>
<line x1="248" y1="67.9" x2="248" y2="69.10000000000001" stroke="#333" stroke-width="0.4"/>
<text x="248" y="71.7" font-size="2.4" font-weight="normal" text-anchor="middle" fill="#333" >10⁴</text>
<line x1="262" y1="67.9" x2="262" y2="69.10000000000001" stroke="#333" stroke-width="0.4"/>
<text x="262" y="71.7" font-size="2.4" font-weight="normal" text-anchor="middle" fill="#333" >10⁵</text>
<text transform="translate(204.8,38.5) rotate(-90)" font-size="3.2" font-weight="bold" text-anchor="middle" fill="#111">CD3</text>
<text x="228.65" y="74.3" font-size="3.6" font-weight="bold" textLength="9.10" lengthAdjust="spacingAndGlyphs" fill="#222">CD19</text>
<line x1="252.6" y1="59.15" x2="266.9" y2="59.15" stroke="#111" stroke-width="0.9"/>
<path d="M268.4,59.15 L266.2,58.05 L266.2,60.25 Z" fill="#111"/>
<text x="299.75" y="11" font-size="4.2" font-weight="bold" textLength="12.25" lengthAdjust="spacingAndGlyphs" fill="#222">CD19+</text>
<g filter="url(#b1)">
<ellipse cx="295" cy="38" rx="4.8" ry="17.5" fill="#6078c8"/>
<ellipse cx="311.5" cy="39" rx="10" ry="7" fill="#8494d4" opacity="0.95"/>
<ellipse cx="313.5" cy="52.3" rx="10.5" ry="5.8" fill="#4860c4"/>
</g>
<path d="M292.6,25.5h0.7v0.7h-0.7zM309.4,33.0h0.7v0.7h-0.7zM304.0,51.1h0.7v0.7h-0.7zM316.9,43.2h0.7v0.7h-0.7zM297.3,29.8h0.7v0.7h-0.7zM312.1,34.7h0.7v0.7h-0.7zM306.3,47.7h0.7v0.7h-0.7zM307.0,44.3h0.7v0.7h-0.7zM297.9,51.0h0.7v0.7h-0.7zM317.2,33.5h0.7v0.7h-0.7zM309.3,53.7h0.7v0.7h-0.7zM314.2,43.7h0.7v0.7h-0.7zM298.3,24.9h0.7v0.7h-0.7zM313.4,40.3h0.7v0.7h-0.7zM313.6,48.5h0.7v0.7h-0.7zM310.6,36.8h0.7v0.7h-0.7zM298.8,53.1h0.7v0.7h-0.7zM312.3,35.1h0.7v0.7h-0.7zM322.5,53.1h0.7v0.7h-0.7zM316.4,43.6h0.7v0.7h-0.7zM295.0,36.8h0.7v0.7h-0.7zM313.3,36.9h0.7v0.7h-0.7zM306.0,50.0h0.7v0.7h-0.7zM315.4,36.4h0.7v0.7h-0.7zM290.9,44.5h0.7v0.7h-0.7zM307.2,38.4h0.7v0.7h-0.7zM312.9,50.4h0.7v0.7h-0.7zM318.0,37.8h0.7v0.7h-0.7zM294.2,29.1h0.7v0.7h-0.7zM313.9,34.7h0.7v0.7h-0.7zM310.3,55.1h0.7v0.7h-0.7zM308.5,41.0h0.7v0.7h-0.7zM298.5,25.5h0.7v0.7h-0.7zM303.0,34.0h0.7v0.7h-0.7zM319.3,53.6h0.7v0.7h-0.7zM307.3,39.0h0.7v0.7h-0.7zM292.1,38.4h0.7v0.7h-0.7zM302.6,40.7h0.7v0.7h-0.7zM322.2,57.5h0.7v0.7h-0.7zM314.3,44.6h0.7v0.7h-0.7zM290.7,32.3h0.7v0.7h-0.7zM320.3,41.8h0.7v0.7h-0.7zM311.5,57.3h0.7v0.7h-0.7zM312.7,43.4h0.7v0.7h-0.7zM293.1,28.7h0.7v0.7h-0.7zM310.3,32.7h0.7v0.7h-0.7zM310.9,57.6h0.7v0.7h-0.7zM308.6,36.1h0.7v0.7h-0.7zM290.9,27.9h0.7v0.7h-0.7zM316.8,36.0h0.7v0.7h-0.7zM308.9,47.6h0.7v0.7h-0.7zM317.7,39.8h0.7v0.7h-0.7zM292.4,23.9h0.7v0.7h-0.7zM302.9,33.2h0.7v0.7h-0.7zM317.4,48.2h0.7v0.7h-0.7zM304.6,40.4h0.7v0.7h-0.7zM292.7,57.9h0.7v0.7h-0.7zM304.1,38.3h0.7v0.7h-0.7zM319.5,51.2h0.7v0.7h-0.7zM317.8,40.3h0.7v0.7h-0.7zM292.7,36.7h0.7v0.7h-0.7zM302.5,36.8h0.7v0.7h-0.7zM308.0,56.7h0.7v0.7h-0.7zM315.6,40.5h0.7v0.7h-0.7zM290.8,31.0h0.7v0.7h-0.7zM306.5,33.8h0.7v0.7h-0.7zM307.6,56.5h0.7v0.7h-0.7zM306.0,36.5h0.7v0.7h-0.7zM298.8,42.3h0.7v0.7h-0.7zM320.8,36.5h0.7v0.7h-0.7zM322.3,54.0h0.7v0.7h-0.7zM315.1,42.7h0.7v0.7h-0.7zM294.9,25.2h0.7v0.7h-0.7zM305.8,43.2h0.7v0.7h-0.7zM322.3,57.1h0.7v0.7h-0.7zM308.7,41.9h0.7v0.7h-0.7zM297.6,45.1h0.7v0.7h-0.7zM317.4,38.3h0.7v0.7h-0.7zM316.9,54.4h0.7v0.7h-0.7zM307.8,44.3h0.7v0.7h-0.7zM299.0,24.5h0.7v0.7h-0.7zM320.4,44.5h0.7v0.7h-0.7zM317.2,47.0h0.7v0.7h-0.7zM316.6,37.1h0.7v0.7h-0.7zM299.1,46.0h0.7v0.7h-0.7zM303.0,33.2h0.7v0.7h-0.7zM316.5,53.0h0.7v0.7h-0.7zM314.5,44.3h0.7v0.7h-0.7zM292.4,21.9h0.7v0.7h-0.7zM319.5,31.0h0.7v0.7h-0.7zM321.8,47.8h0.7v0.7h-0.7zM315.3,43.0h0.7v0.7h-0.7zM298.3,41.7h0.7v0.7h-0.7zM318.7,33.7h0.7v0.7h-0.7zM317.3,50.3h0.7v0.7h-0.7zM316.5,43.0h0.7v0.7h-0.7zM294.7,40.9h0.7v0.7h-0.7zM302.3,31.3h0.7v0.7h-0.7zM315.6,52.1h0.7v0.7h-0.7zM316.1,41.5h0.7v0.7h-0.7zM291.7,34.9h0.7v0.7h-0.7zM316.5,38.2h0.7v0.7h-0.7zM302.7,56.1h0.7v0.7h-0.7zM315.6,36.8h0.7v0.7h-0.7zM295.3,35.6h0.7v0.7h-0.7zM316.9,35.2h0.7v0.7h-0.7zM307.6,52.1h0.7v0.7h-0.7zM317.5,36.9h0.7v0.7h-0.7zM291.5,44.3h0.7v0.7h-0.7zM318.8,38.1h0.7v0.7h-0.7zM312.0,56.4h0.7v0.7h-0.7zM314.9,36.6h0.7v0.7h-0.7zM298.3,28.9h0.7v0.7h-0.7zM307.6,42.7h0.7v0.7h-0.7zM311.8,55.7h0.7v0.7h-0.7zM306.3,43.9h0.7v0.7h-0.7zM292.1,27.2h0.7v0.7h-0.7zM311.3,35.6h0.7v0.7h-0.7zM314.4,56.9h0.7v0.7h-0.7zM313.9,36.1h0.7v0.7h-0.7zM293.3,41.5h0.7v0.7h-0.7zM311.1,41.0h0.7v0.7h-0.7zM313.2,47.4h0.7v0.7h-0.7zM307.4,43.6h0.7v0.7h-0.7zM293.7,49.6h0.7v0.7h-0.7zM320.7,39.7h0.7v0.7h-0.7zM317.4,53.5h0.7v0.7h-0.7zM308.4,44.2h0.7v0.7h-0.7zM294.7,54.8h0.7v0.7h-0.7zM307.7,43.1h0.7v0.7h-0.7zM319.8,53.5h0.7v0.7h-0.7zM310.2,37.3h0.7v0.7h-0.7zM297.4,34.9h0.7v0.7h-0.7zM314.5,32.7h0.7v0.7h-0.7zM304.3,48.2h0.7v0.7h-0.7zM315.3,37.6h0.7v0.7h-0.7zM298.5,35.3h0.7v0.7h-0.7zM312.9,35.8h0.7v0.7h-0.7zM316.2,47.6h0.7v0.7h-0.7zM309.6,44.4h0.7v0.7h-0.7zM292.1,45.5h0.7v0.7h-0.7zM308.1,35.1h0.7v0.7h-0.7zM303.0,46.7h0.7v0.7h-0.7zM317.3,43.5h0.7v0.7h-0.7zM297.6,51.0h0.7v0.7h-0.7zM320.1,33.1h0.7v0.7h-0.7zM315.4,52.2h0.7v0.7h-0.7zM312.0,44.4h0.7v0.7h-0.7zM297.3,56.9h0.7v0.7h-0.7zM304.0,40.1h0.7v0.7h-0.7zM317.4,55.1h0.7v0.7h-0.7zM312.7,43.5h0.7v0.7h-0.7zM293.2,55.4h0.7v0.7h-0.7zM309.6,39.3h0.7v0.7h-0.7zM322.2,54.6h0.7v0.7h-0.7zM308.3,38.1h0.7v0.7h-0.7zM293.4,44.5h0.7v0.7h-0.7zM320.9,43.6h0.7v0.7h-0.7zM311.3,51.1h0.7v0.7h-0.7zM315.4,38.6h0.7v0.7h-0.7zM294.2,22.3h0.7v0.7h-0.7zM305.3,38.5h0.7v0.7h-0.7zM317.8,53.6h0.7v0.7h-0.7zM309.1,44.6h0.7v0.7h-0.7zM296.0,27.4h0.7v0.7h-0.7zM303.1,44.6h0.7v0.7h-0.7zM324.2,57.1h0.7v0.7h-0.7zM312.5,38.8h0.7v0.7h-0.7zM291.3,31.1h0.7v0.7h-0.7zM306.1,44.0h0.7v0.7h-0.7zM322.1,55.4h0.7v0.7h-0.7zM306.1,38.1h0.7v0.7h-0.7zM293.2,56.1h0.7v0.7h-0.7zM304.9,42.0h0.7v0.7h-0.7zM317.5,52.8h0.7v0.7h-0.7zM317.4,38.4h0.7v0.7h-0.7zM295.2,27.5h0.7v0.7h-0.7zM303.7,31.3h0.7v0.7h-0.7zM309.5,47.9h0.7v0.7h-0.7zM304.9,44.9h0.7v0.7h-0.7zM293.1,54.0h0.7v0.7h-0.7zM315.3,41.2h0.7v0.7h-0.7zM316.9,57.5h0.7v0.7h-0.7zM316.3,42.5h0.7v0.7h-0.7zM295.5,46.9h0.7v0.7h-0.7zM315.7,38.6h0.7v0.7h-0.7zM313.6,48.3h0.7v0.7h-0.7zM315.8,40.4h0.7v0.7h-0.7zM291.1,27.9h0.7v0.7h-0.7zM318.6,34.4h0.7v0.7h-0.7zM311.1,54.3h0.7v0.7h-0.7zM316.1,39.0h0.7v0.7h-0.7zM293.9,37.1h0.7v0.7h-0.7zM302.3,43.2h0.7v0.7h-0.7zM302.9,57.5h0.7v0.7h-0.7zM306.1,37.4h0.7v0.7h-0.7zM298.1,51.6h0.7v0.7h-0.7zM306.3,38.7h0.7v0.7h-0.7zM313.0,54.8h0.7v0.7h-0.7zM306.6,43.4h0.7v0.7h-0.7zM299.4,47.4h0.7v0.7h-0.7zM319.5,44.1h0.7v0.7h-0.7zM310.8,56.2h0.7v0.7h-0.7zM315.7,41.3h0.7v0.7h-0.7zM291.5,44.2h0.7v0.7h-0.7zM319.3,35.1h0.7v0.7h-0.7zM316.7,56.8h0.7v0.7h-0.7zM312.4,36.3h0.7v0.7h-0.7zM296.1,31.1h0.7v0.7h-0.7zM318.3,40.2h0.7v0.7h-0.7zM309.3,56.8h0.7v0.7h-0.7zM312.8,39.1h0.7v0.7h-0.7zM297.9,54.1h0.7v0.7h-0.7zM318.9,43.3h0.7v0.7h-0.7zM317.0,54.5h0.7v0.7h-0.7zM312.5,40.7h0.7v0.7h-0.7zM299.3,34.6h0.7v0.7h-0.7zM303.4,40.9h0.7v0.7h-0.7zM313.5,52.8h0.7v0.7h-0.7zM312.4,38.2h0.7v0.7h-0.7zM292.3,24.4h0.7v0.7h-0.7zM316.8,43.7h0.7v0.7h-0.7zM317.8,47.8h0.7v0.7h-0.7zM317.7,43.4h0.7v0.7h-0.7zM295.0,21.8h0.7v0.7h-0.7zM318.0,39.7h0.7v0.7h-0.7zM316.2,46.7h0.7v0.7h-0.7zM314.3,36.3h0.7v0.7h-0.7zM294.8,27.0h0.7v0.7h-0.7zM308.7,43.4h0.7v0.7h-0.7zM319.0,55.9h0.7v0.7h-0.7zM308.2,39.5h0.7v0.7h-0.7zM295.9,23.0h0.7v0.7h-0.7zM309.7,44.6h0.7v0.7h-0.7zM319.1,56.4h0.7v0.7h-0.7zM308.2,42.2h0.7v0.7h-0.7zM297.5,47.3h0.7v0.7h-0.7zM310.2,33.3h0.7v0.7h-0.7zM302.9,56.7h0.7v0.7h-0.7zM317.0,38.5h0.7v0.7h-0.7zM297.2,36.5h0.7v0.7h-0.7zM313.8,42.8h0.7v0.7h-0.7zM309.6,53.6h0.7v0.7h-0.7zM307.6,40.6h0.7v0.7h-0.7zM290.8,31.3h0.7v0.7h-0.7zM307.3,43.8h0.7v0.7h-0.7zM305.4,55.2h0.7v0.7h-0.7zM305.2,44.9h0.7v0.7h-0.7zM292.0,25.1h0.7v0.7h-0.7zM305.9,44.0h0.7v0.7h-0.7zM317.2,56.7h0.7v0.7h-0.7zM311.0,37.0h0.7v0.7h-0.7zM293.5,38.3h0.7v0.7h-0.7zM320.8,33.2h0.7v0.7h-0.7zM307.9,56.2h0.7v0.7h-0.7zM305.6,44.7h0.7v0.7h-0.7zM293.1,42.3h0.7v0.7h-0.7zM314.5,43.7h0.7v0.7h-0.7zM304.2,56.2h0.7v0.7h-0.7zM306.5,42.5h0.7v0.7h-0.7zM290.7,49.6h0.7v0.7h-0.7zM305.3,33.7h0.7v0.7h-0.7zM303.3,50.2h0.7v0.7h-0.7zM308.6,44.8h0.7v0.7h-0.7zM295.9,35.0h0.7v0.7h-0.7zM320.8,33.2h0.7v0.7h-0.7zM307.2,57.5h0.7v0.7h-0.7zM317.3,42.2h0.7v0.7h-0.7zM299.2,23.9h0.7v0.7h-0.7zM319.1,40.8h0.7v0.7h-0.7zM317.2,56.2h0.7v0.7h-0.7zM305.5,37.8h0.7v0.7h-0.7zM291.7,39.1h0.7v0.7h-0.7zM312.3,38.5h0.7v0.7h-0.7zM310.5,55.1h0.7v0.7h-0.7zM315.7,42.8h0.7v0.7h-0.7zM290.8,27.3h0.7v0.7h-0.7zM306.0,34.2h0.7v0.7h-0.7zM315.1,48.7h0.7v0.7h-0.7zM312.7,39.1h0.7v0.7h-0.7zM293.7,47.4h0.7v0.7h-0.7zM319.9,33.5h0.7v0.7h-0.7zM310.2,57.8h0.7v0.7h-0.7zM307.0,36.2h0.7v0.7h-0.7zM292.2,51.7h0.7v0.7h-0.7zM315.8,44.1h0.7v0.7h-0.7zM313.4,47.0h0.7v0.7h-0.7zM308.3,42.5h0.7v0.7h-0.7zM294.0,26.9h0.7v0.7h-0.7zM309.0,37.4h0.7v0.7h-0.7zM310.3,51.6h0.7v0.7h-0.7zM305.9,36.3h0.7v0.7h-0.7zM297.5,48.3h0.7v0.7h-0.7zM309.8,32.4h0.7v0.7h-0.7zM309.0,52.9h0.7v0.7h-0.7zM316.5,40.3h0.7v0.7h-0.7zM299.2,40.9h0.7v0.7h-0.7zM305.3,39.5h0.7v0.7h-0.7zM315.7,53.4h0.7v0.7h-0.7zM314.1,36.2h0.7v0.7h-0.7zM294.4,50.8h0.7v0.7h-0.7zM304.5,31.4h0.7v0.7h-0.7zM306.5,49.8h0.7v0.7h-0.7zM310.1,38.8h0.7v0.7h-0.7zM296.1,28.0h0.7v0.7h-0.7zM308.4,40.4h0.7v0.7h-0.7zM314.5,57.5h0.7v0.7h-0.7zM317.1,38.3h0.7v0.7h-0.7zM293.5,41.3h0.7v0.7h-0.7zM312.2,36.0h0.7v0.7h-0.7zM321.5,48.8h0.7v0.7h-0.7zM310.6,37.1h0.7v0.7h-0.7zM298.4,43.4h0.7v0.7h-0.7zM320.8,32.8h0.7v0.7h-0.7zM318.1,53.4h0.7v0.7h-0.7zM304.7,43.4h0.7v0.7h-0.7zM298.3,24.7h0.7v0.7h-0.7zM319.9,41.9h0.7v0.7h-0.7zM315.8,52.8h0.7v0.7h-0.7zM307.7,36.5h0.7v0.7h-0.7zM294.7,53.1h0.7v0.7h-0.7zM305.8,37.5h0.7v0.7h-0.7zM308.7,54.4h0.7v0.7h-0.7zM317.4,44.0h0.7v0.7h-0.7zM293.1,36.9h0.7v0.7h-0.7zM301.9,38.3h0.7v0.7h-0.7zM321.3,56.2h0.7v0.7h-0.7zM305.0,39.9h0.7v0.7h-0.7zM291.2,37.2h0.7v0.7h-0.7zM319.3,34.8h0.7v0.7h-0.7zM321.1,57.5h0.7v0.7h-0.7zM315.5,37.8h0.7v0.7h-0.7zM298.7,55.2h0.7v0.7h-0.7zM321.0,31.0h0.7v0.7h-0.7zM302.6,49.9h0.7v0.7h-0.7zM311.2,39.8h0.7v0.7h-0.7zM291.3,45.0h0.7v0.7h-0.7zM314.6,39.8h0.7v0.7h-0.7zM313.7,52.8h0.7v0.7h-0.7zM313.7,36.6h0.7v0.7h-0.7zM294.4,26.7h0.7v0.7h-0.7zM303.8,41.6h0.7v0.7h-0.7zM309.6,50.4h0.7v0.7h-0.7zM307.9,41.3h0.7v0.7h-0.7zM291.6,45.0h0.7v0.7h-0.7zM303.2,44.4h0.7v0.7h-0.7zM306.0,55.3h0.7v0.7h-0.7zM311.6,39.8h0.7v0.7h-0.7zM293.2,34.8h0.7v0.7h-0.7zM316.4,38.3h0.7v0.7h-0.7zM314.3,49.3h0.7v0.7h-0.7zM312.7,37.5h0.7v0.7h-0.7zM294.8,45.4h0.7v0.7h-0.7zM312.2,39.0h0.7v0.7h-0.7zM315.0,48.7h0.7v0.7h-0.7zM317.4,42.2h0.7v0.7h-0.7zM297.0,56.4h0.7v0.7h-0.7zM310.5,35.5h0.7v0.7h-0.7zM309.2,50.1h0.7v0.7h-0.7zM308.2,38.8h0.7v0.7h-0.7zM292.4,39.3h0.7v0.7h-0.7zM307.4,36.0h0.7v0.7h-0.7zM317.1,50.1h0.7v0.7h-0.7zM316.1,43.2h0.7v0.7h-0.7zM293.4,52.0h0.7v0.7h-0.7zM305.2,32.2h0.7v0.7h-0.7zM324.4,46.9h0.7v0.7h-0.7zM304.1,43.8h0.7v0.7h-0.7zM290.5,45.5h0.7v0.7h-0.7zM312.5,34.0h0.7v0.7h-0.7zM307.9,57.6h0.7v0.7h-0.7zM309.5,38.2h0.7v0.7h-0.7zM294.4,48.3h0.7v0.7h-0.7zM307.4,32.1h0.7v0.7h-0.7zM319.9,47.6h0.7v0.7h-0.7zM304.8,36.0h0.7v0.7h-0.7zM299.3,37.5h0.7v0.7h-0.7zM316.0,38.7h0.7v0.7h-0.7zM323.9,50.4h0.7v0.7h-0.7zM308.9,42.1h0.7v0.7h-0.7z" fill="#3654bc" opacity="0.85"/>
<g filter="url(#b2)">
<ellipse cx="295.3" cy="33.5" rx="2.6" ry="7" fill="#30b8c0"/>
<ellipse cx="295.3" cy="33" rx="1.2" ry="3.5" fill="#50c890"/>
<ellipse cx="315.5" cy="52.4" rx="7" ry="4.2" fill="#2c44b4"/>
<ellipse cx="316.8" cy="52.5" rx="5.4" ry="3.4" fill="#30c090"/>
</g><g filter="url(#b3)">
<ellipse cx="317.2" cy="52.5" rx="3.2" ry="2.4" fill="#c8d030"/>
<ellipse cx="317.4" cy="52.5" rx="1.8" ry="1.5" fill="#e04010"/>
</g>
<rect x="279.6" y="12.6" width="55.19999999999999" height="55.300000000000004" fill="none" stroke="#777" stroke-width="0.5"/>
<line x1="300.45" y1="45.3" x2="300.45" y2="67.9" stroke="#555" stroke-width="0.6"/>
<rect x="280.5" y="13.2" width="19.7" height="30.9" fill="none" stroke="#f0a8cc" stroke-width="0.5"/>
<rect x="300.6" y="13.2" width="34" height="30.9" fill="none" stroke="#d858a0" stroke-width="0.6"/>
<rect x="279.6" y="12.5" width="56" height="32.4" fill="none" stroke="#3a2060" stroke-width="1.2"/>
<text x="284.2" y="19.3" font-size="3.8" font-weight="bold" textLength="5.60" lengthAdjust="spacingAndGlyphs" fill="#eaa4c8">Swi</text>
<text x="283.6" y="23.6" font-size="3.8" font-weight="bold" textLength="6.70" lengthAdjust="spacingAndGlyphs" fill="#eaa4c8">Mem</text>
<text x="321" y="19.3" font-size="3.8" font-weight="bold" textLength="11.50" lengthAdjust="spacingAndGlyphs" fill="#c85898">Unswi</text>
<text x="323" y="23.6" font-size="3.8" font-weight="bold" textLength="7.60" lengthAdjust="spacingAndGlyphs" fill="#c85898">Mem</text>
<text transform="translate(273.4,45) rotate(-90)" font-size="3.2" font-weight="bold" text-anchor="middle" fill="#111">CD27</text>
<text x="301.4" y="74.3" font-size="3.6" font-weight="bold" textLength="3.85" lengthAdjust="spacingAndGlyphs" fill="#222">IgD</text>
<line x1="278.40000000000003" y1="16" x2="279.6" y2="16" stroke="#333" stroke-width="0.4"/>
<text x="278.0" y="16.9" font-size="2.4" font-weight="normal" text-anchor="end" fill="#333" >10⁵</text>
<line x1="278.40000000000003" y1="23" x2="279.6" y2="23" stroke="#333" stroke-width="0.4"/>
<text x="278.0" y="23.9" font-size="2.4" font-weight="normal" text-anchor="end" fill="#333" >10⁴</text>
<line x1="278.40000000000003" y1="34" x2="279.6" y2="34" stroke="#333" stroke-width="0.4"/>
<text x="278.0" y="34.9" font-size="2.4" font-weight="normal" text-anchor="end" fill="#333" >10³</text>
<line x1="278.40000000000003" y1="53" x2="279.6" y2="53" stroke="#333" stroke-width="0.4"/>
<text x="278.0" y="53.9" font-size="2.4" font-weight="normal" text-anchor="end" fill="#333" >0</text>
<line x1="293" y1="67.9" x2="293" y2="69.10000000000001" stroke="#333" stroke-width="0.4"/>
<text x="293" y="71.7" font-size="2.4" font-weight="normal" text-anchor="middle" fill="#333" >0</text>
<line x1="313" y1="67.9" x2="313" y2="69.10000000000001" stroke="#333" stroke-width="0.4"/>
<text x="313" y="71.7" font-size="2.4" font-weight="normal" text-anchor="middle" fill="#333" >10³</text>
<line x1="326" y1="67.9" x2="326" y2="69.10000000000001" stroke="#333" stroke-width="0.4"/>
<text x="326" y="71.7" font-size="2.4" font-weight="normal" text-anchor="middle" fill="#333" >10⁴</text>
<line x1="333" y1="67.9" x2="333" y2="69.10000000000001" stroke="#333" stroke-width="0.4"/>
<text x="333" y="71.7" font-size="2.4" font-weight="normal" text-anchor="middle" fill="#333" >10⁵</text>
<rect x="338.6" y="14.2" width="4.4" height="3" fill="none" stroke="#3b2466" stroke-width="0.8"/>
<text x="344.9" y="16.9" font-size="3.25" font-weight="bold" text-anchor="start" fill="#222" >CD27+ (Total Memory)</text>
<rect x="338.6" y="19.799999999999997" width="4.4" height="3" fill="none" stroke="#b8509a" stroke-width="0.8"/>
<text x="344.9" y="22.499999999999996" font-size="3.25" font-weight="bold" text-anchor="start" fill="#222" >CD27+ IgD+ (Unswitched Memory)</text>
<rect x="338.6" y="25.4" width="4.4" height="3" fill="none" stroke="#eaa0c8" stroke-width="0.8"/>
<text x="344.9" y="28.099999999999998" font-size="3.25" font-weight="bold" text-anchor="start" fill="#222" >CD27+ IgD- (Switched Memory)</text>
<text x="50.6" y="89.1" font-size="7.1" font-weight="bold" text-anchor="middle" fill="#111" >Healthy Controls</text>
<circle cx="50.75" cy="118.35" r="21.55" fill="#ffffff"/>
<path d="M50.75,118.35 L50.75,96.8 A21.55,21.55 0 0 0 32.80,130.27 Z" fill="#777777"/>
<circle cx="50.75" cy="118.35" r="21.55" fill="none" stroke="#3a3a3a" stroke-width="1.0"/>
<rect x="29.799999999999997" y="145.0" width="3.9" height="3.0" fill="#ffffff" stroke="#333" stroke-width="0.65"/>
<rect x="29.799999999999997" y="151.2" width="3.9" height="3.0" fill="#777777" stroke="#333" stroke-width="0.65"/>
<text x="39.1" y="148.6" font-size="5.9" textLength="18.3" lengthAdjust="spacingAndGlyphs" fill="#1a1a1a">65.67%</text>
<text x="61.0" y="148.6" font-size="5.9" textLength="21.7" lengthAdjust="spacingAndGlyphs" fill="#1a1a1a">Swi Mem</text>
<text x="39.1" y="154.8" font-size="5.9" textLength="18.3" lengthAdjust="spacingAndGlyphs" fill="#1a1a1a">34.33%</text>
<text x="61.0" y="154.8" font-size="5.9" textLength="27.1" lengthAdjust="spacingAndGlyphs" fill="#1a1a1a">Unswi Mem</text>
<text x="124.05" y="89.1" font-size="7.1" font-weight="bold" text-anchor="middle" fill="#111" >Immunized</text>
<circle cx="124.45" cy="118.05" r="21.55" fill="#a5a5a9"/>
<path d="M124.45,118.05 L124.45,96.5 A21.55,21.55 0 0 0 107.17,130.92 Z" fill="#4e4e50"/>
<circle cx="124.45" cy="118.05" r="21.55" fill="none" stroke="#2a2a2a" stroke-width="1.0"/>
<rect x="108.30000000000001" y="145.3" width="3.9" height="3.0" fill="#a5a5a9" stroke="#333" stroke-width="0.65"/>
<rect x="108.30000000000001" y="151.5" width="3.9" height="3.0" fill="#4e4e50" stroke="#333" stroke-width="0.65"/>
<text x="117.65" y="148.9" font-size="5.9" textLength="18.3" lengthAdjust="spacingAndGlyphs" fill="#1a1a1a">64.81%</text>
<text x="139.0" y="148.9" font-size="5.9" textLength="21.7" lengthAdjust="spacingAndGlyphs" fill="#1a1a1a">Swi Mem</text>
<text x="117.65" y="155.10000000000002" font-size="5.9" textLength="18.3" lengthAdjust="spacingAndGlyphs" fill="#1a1a1a">35.19%</text>
<text x="139.0" y="155.10000000000002" font-size="5.9" textLength="27.1" lengthAdjust="spacingAndGlyphs" fill="#1a1a1a">Unswi Mem</text>
<text x="52.4" y="170.5" font-size="7.1" font-weight="bold" text-anchor="middle" fill="#111" >Mild</text>
<circle cx="52.6" cy="199.5" r="21.4" fill="#f4a0a5"/>
<path d="M52.6,199.5 L52.6,178.1 A21.4,21.4 0 0 0 38.53,215.62 Z" fill="#7a4e52"/>
<circle cx="52.6" cy="199.5" r="21.4" fill="none" stroke="#4a2428" stroke-width="1.0"/>
<rect x="33.8" y="227.3" width="3.9" height="3.0" fill="#f4a0a5" stroke="#333" stroke-width="0.65"/>
<rect x="33.8" y="233.5" width="3.9" height="3.0" fill="#7a4e52" stroke="#333" stroke-width="0.65"/>
<text x="43.1" y="230.9" font-size="5.9" textLength="18.3" lengthAdjust="spacingAndGlyphs" fill="#1a1a1a">61.42%</text>
<text x="64.5" y="230.9" font-size="5.9" textLength="21.7" lengthAdjust="spacingAndGlyphs" fill="#1a1a1a">Swi Mem</text>
<text x="43.1" y="237.10000000000002" font-size="5.9" textLength="18.3" lengthAdjust="spacingAndGlyphs" fill="#1a1a1a">38.58%</text>
<text x="64.5" y="237.10000000000002" font-size="5.9" textLength="27.1" lengthAdjust="spacingAndGlyphs" fill="#1a1a1a">Unswi Mem</text>
<text x="126.25" y="170.5" font-size="7.1" font-weight="bold" text-anchor="middle" fill="#111" >Severe</text>
<circle cx="126.75" cy="199.5" r="21.5" fill="#ec3c44"/>
<path d="M126.75,199.5 L126.75,178.0 A21.5,21.5 0 0 0 105.49,196.27 Z" fill="#7a1e28"/>
<circle cx="126.75" cy="199.5" r="21.5" fill="none" stroke="#4a1014" stroke-width="1.0"/>
<rect x="107.10000000000001" y="227.0" width="3.9" height="3.0" fill="#ec3c44" stroke="#333" stroke-width="0.65"/>
<rect x="107.10000000000001" y="233.2" width="3.9" height="3.0" fill="#7a1e28" stroke="#333" stroke-width="0.65"/>
<text x="116.6" y="230.6" font-size="5.9" textLength="18.3" lengthAdjust="spacingAndGlyphs" fill="#1a1a1a">77.40%</text>
<text x="137.8" y="230.6" font-size="5.9" textLength="21.7" lengthAdjust="spacingAndGlyphs" fill="#1a1a1a">Swi Mem</text>
<text x="116.6" y="236.8" font-size="5.9" textLength="18.3" lengthAdjust="spacingAndGlyphs" fill="#1a1a1a">22.60%</text>
<text x="137.8" y="236.8" font-size="5.9" textLength="27.1" lengthAdjust="spacingAndGlyphs" fill="#1a1a1a">Unswi Mem</text>
<line x1="224.1" y1="109.0" x2="224.1" y2="177.20000000000002" stroke="#222" stroke-width="0.75"/>
<line x1="221.7" y1="176.9" x2="224.1" y2="176.9" stroke="#222" stroke-width="0.7"/>
<text x="218.5" y="178.45000000000002" font-size="4.4" font-weight="bold" textLength="2.40" lengthAdjust="spacingAndGlyphs" fill="#333">0</text>
<line x1="221.7" y1="160.1" x2="224.1" y2="160.1" stroke="#222" stroke-width="0.7"/>
<text x="216.1" y="161.65" font-size="4.4" font-weight="bold" textLength="4.80" lengthAdjust="spacingAndGlyphs" fill="#333">20</text>
<line x1="221.7" y1="143.3" x2="224.1" y2="143.3" stroke="#222" stroke-width="0.7"/>
<text x="216.1" y="144.85000000000002" font-size="4.4" font-weight="bold" textLength="4.80" lengthAdjust="spacingAndGlyphs" fill="#333">40</text>
<line x1="221.7" y1="126.5" x2="224.1" y2="126.5" stroke="#222" stroke-width="0.7"/>
<text x="216.1" y="128.05" font-size="4.4" font-weight="bold" textLength="4.80" lengthAdjust="spacingAndGlyphs" fill="#333">60</text>
<line x1="221.7" y1="109.7" x2="224.1" y2="109.7" stroke="#222" stroke-width="0.7"/>
<text x="216.1" y="111.25" font-size="4.4" font-weight="bold" textLength="4.80" lengthAdjust="spacingAndGlyphs" fill="#333">80</text>
<line x1="222.5" y1="176.9" x2="291.4" y2="176.9" stroke="#222" stroke-width="0.75"/>
<line x1="235.4" y1="176.9" x2="235.4" y2="178.70000000000002" stroke="#222" stroke-width="0.7"/>
<line x1="250.25" y1="176.9" x2="250.25" y2="178.70000000000002" stroke="#222" stroke-width="0.7"/>
<line x1="265.1" y1="176.9" x2="265.1" y2="178.70000000000002" stroke="#222" stroke-width="0.7"/>
<line x1="280.9" y1="176.9" x2="280.9" y2="178.70000000000002" stroke="#222" stroke-width="0.7"/>
<text x="231.35" y="185.1" font-size="4.9" font-weight="bold" textLength="6.65" lengthAdjust="spacingAndGlyphs" fill="#222">HC</text>
<text x="245" y="185.1" font-size="4.9" font-weight="bold" textLength="10.15" lengthAdjust="spacingAndGlyphs" fill="#222">Imm</text>
<text x="260.5" y="185.1" font-size="4.9" font-weight="bold" textLength="9.90" lengthAdjust="spacingAndGlyphs" fill="#222">Mild</text>
<text x="272.2" y="185.1" font-size="4.9" font-weight="bold" textLength="16.20" lengthAdjust="spacingAndGlyphs" fill="#222">Severe</text>
<text transform="translate(204.8,158.8) rotate(-90)" font-size="5.6" font-weight="bold" textLength="31.90" lengthAdjust="spacingAndGlyphs" fill="#111">Unswi Mem</text>
<text transform="translate(211.6,160.5) rotate(-90)" font-size="5.6" font-weight="bold" textLength="35.50" lengthAdjust="spacingAndGlyphs" fill="#111">(% of CD27+)</text>
<path d="M234.3,118.3 L234.3,98.2 L281.25,98.2 L281.25,106.7" fill="none" stroke="#222" stroke-width="0.75"/>
<text x="247.2" y="96.4" font-size="5.0" font-weight="normal" textLength="21.00" lengthAdjust="spacingAndGlyphs" fill="#222">p=0.0505</text>
<path d="M249.75,118 L249.75,110.6 L281.25,110.6 L281.25,119.5" fill="none" stroke="#222" stroke-width="0.75"/>
<circle cx="265.9" cy="106.89999999999999" r="1.15" fill="#111"/>
<path d="M265.6,127.8 L265.6,124 L281.25,124 L281.25,138.5" fill="none" stroke="#222" stroke-width="0.75"/>
<circle cx="271.5" cy="119.89999999999999" r="1.15" fill="#111"/>
<circle cx="275.4" cy="119.89999999999999" r="1.15" fill="#111"/>
<circle cx="234" cy="122.7" r="1.55" fill="#ffffff" stroke="#8a8a8a" stroke-width="0.7"/>
<circle cx="235.2" cy="134.7" r="1.55" fill="#ffffff" stroke="#8a8a8a" stroke-width="0.7"/>
<circle cx="234.7" cy="140.5" r="1.55" fill="#ffffff" stroke="#8a8a8a" stroke-width="0.7"/>
<circle cx="231" cy="148.5" r="1.55" fill="#ffffff" stroke="#8a8a8a" stroke-width="0.7"/>
<circle cx="234.3" cy="148.8" r="1.55" fill="#ffffff" stroke="#8a8a8a" stroke-width="0.7"/>
<circle cx="238" cy="148.5" r="1.55" fill="#ffffff" stroke="#8a8a8a" stroke-width="0.7"/>
<circle cx="231.5" cy="152.2" r="1.55" fill="#ffffff" stroke="#8a8a8a" stroke-width="0.7"/>
<circle cx="235" cy="152.2" r="1.55" fill="#ffffff" stroke="#8a8a8a" stroke-width="0.7"/>
<circle cx="231" cy="155.5" r="1.55" fill="#ffffff" stroke="#8a8a8a" stroke-width="0.7"/>
<circle cx="235" cy="156.5" r="1.55" fill="#ffffff" stroke="#8a8a8a" stroke-width="0.7"/>
<circle cx="237.7" cy="157" r="1.55" fill="#ffffff" stroke="#8a8a8a" stroke-width="0.7"/>
<circle cx="232" cy="159.7" r="1.55" fill="#ffffff" stroke="#8a8a8a" stroke-width="0.7"/>
<circle cx="235" cy="159.7" r="1.55" fill="#ffffff" stroke="#8a8a8a" stroke-width="0.7"/>
<line x1="229.5" y1="148.2" x2="239" y2="148.2" stroke="#111" stroke-width="0.7"/>
<circle cx="250.2" cy="121.7" r="1.55" fill="#959595" stroke="#4e4e4e" stroke-width="0.7"/>
<circle cx="251" cy="124.7" r="1.55" fill="#959595" stroke="#4e4e4e" stroke-width="0.7"/>
<circle cx="253.5" cy="126.3" r="1.55" fill="#959595" stroke="#4e4e4e" stroke-width="0.7"/>
<circle cx="250.2" cy="128.5" r="1.55" fill="#959595" stroke="#4e4e4e" stroke-width="0.7"/>
<circle cx="253.5" cy="128.5" r="1.55" fill="#959595" stroke="#4e4e4e" stroke-width="0.7"/>
<circle cx="250.2" cy="135.5" r="1.55" fill="#959595" stroke="#4e4e4e" stroke-width="0.7"/>
<circle cx="252" cy="144" r="1.55" fill="#959595" stroke="#4e4e4e" stroke-width="0.7"/>
<circle cx="247.7" cy="145" r="1.55" fill="#959595" stroke="#4e4e4e" stroke-width="0.7"/>
<circle cx="246.8" cy="148.5" r="1.55" fill="#959595" stroke="#4e4e4e" stroke-width="0.7"/>
<circle cx="251" cy="148.5" r="1.55" fill="#959595" stroke="#4e4e4e" stroke-width="0.7"/>
<circle cx="252.7" cy="153.5" r="1.55" fill="#959595" stroke="#4e4e4e" stroke-width="0.7"/>
<circle cx="248.5" cy="155.5" r="1.55" fill="#959595" stroke="#4e4e4e" stroke-width="0.7"/>
<circle cx="246" cy="158" r="1.55" fill="#959595" stroke="#4e4e4e" stroke-width="0.7"/>
<circle cx="250.2" cy="158" r="1.55" fill="#959595" stroke="#4e4e4e" stroke-width="0.7"/>
<circle cx="252.7" cy="159.7" r="1.55" fill="#959595" stroke="#4e4e4e" stroke-width="0.7"/>
<circle cx="248.5" cy="166.3" r="1.55" fill="#959595" stroke="#4e4e4e" stroke-width="0.7"/>
<circle cx="251.8" cy="166.3" r="1.55" fill="#959595" stroke="#4e4e4e" stroke-width="0.7"/>
<line x1="245.5" y1="147.2" x2="255.5" y2="147.2" stroke="#111" stroke-width="0.7"/>
<circle cx="264" cy="130.5" r="1.55" fill="#f2a4ac" stroke="#c04c5c" stroke-width="0.7"/>
<circle cx="267.3" cy="130.5" r="1.55" fill="#f2a4ac" stroke="#c04c5c" stroke-width="0.7"/>
<circle cx="261.8" cy="139.5" r="1.55" fill="#f2a4ac" stroke="#c04c5c" stroke-width="0.7"/>
<circle cx="266.8" cy="138.8" r="1.55" fill="#f2a4ac" stroke="#c04c5c" stroke-width="0.7"/>
<circle cx="269.3" cy="139.5" r="1.55" fill="#f2a4ac" stroke="#c04c5c" stroke-width="0.7"/>
<circle cx="263.5" cy="143" r="1.55" fill="#f2a4ac" stroke="#c04c5c" stroke-width="0.7"/>
<circle cx="266.8" cy="143.8" r="1.55" fill="#f2a4ac" stroke="#c04c5c" stroke-width="0.7"/>
<circle cx="261" cy="145.5" r="1.55" fill="#f2a4ac" stroke="#c04c5c" stroke-width="0.7"/>
<circle cx="266" cy="146.3" r="1.55" fill="#f2a4ac" stroke="#c04c5c" stroke-width="0.7"/>
<circle cx="268.5" cy="148" r="1.55" fill="#f2a4ac" stroke="#c04c5c" stroke-width="0.7"/>
<circle cx="264.3" cy="151.3" r="1.55" fill="#f2a4ac" stroke="#c04c5c" stroke-width="0.7"/>
<circle cx="267.7" cy="151.3" r="1.55" fill="#f2a4ac" stroke="#c04c5c" stroke-width="0.7"/>
<circle cx="265.7" cy="162.2" r="1.55" fill="#f2a4ac" stroke="#c04c5c" stroke-width="0.7"/>
<line x1="261.5" y1="143.8" x2="271.5" y2="143.8" stroke="#111" stroke-width="0.7"/>
<circle cx="280.2" cy="141" r="1.55" fill="#e63a48" stroke="#a01828" stroke-width="0.7"/>
<circle cx="281" cy="144.3" r="1.55" fill="#e63a48" stroke="#a01828" stroke-width="0.7"/>
<circle cx="279.3" cy="150.5" r="1.55" fill="#e63a48" stroke="#a01828" stroke-width="0.7"/>
<circle cx="283.5" cy="150.5" r="1.55" fill="#e63a48" stroke="#a01828" stroke-width="0.7"/>
<circle cx="277.7" cy="153" r="1.55" fill="#e63a48" stroke="#a01828" stroke-width="0.7"/>
<circle cx="281" cy="157.2" r="1.55" fill="#e63a48" stroke="#a01828" stroke-width="0.7"/>
<circle cx="285.2" cy="157.7" r="1.55" fill="#e63a48" stroke="#a01828" stroke-width="0.7"/>
<circle cx="277.7" cy="160" r="1.55" fill="#e63a48" stroke="#a01828" stroke-width="0.7"/>
<circle cx="280.2" cy="162.2" r="1.55" fill="#e63a48" stroke="#a01828" stroke-width="0.7"/>
<circle cx="283.5" cy="162.7" r="1.55" fill="#e63a48" stroke="#a01828" stroke-width="0.7"/>
<circle cx="279.3" cy="166.3" r="1.55" fill="#e63a48" stroke="#a01828" stroke-width="0.7"/>
<circle cx="282.7" cy="168" r="1.55" fill="#e63a48" stroke="#a01828" stroke-width="0.7"/>
<circle cx="281" cy="173.8" r="1.55" fill="#e63a48" stroke="#a01828" stroke-width="0.7"/>
<line x1="276" y1="157.7" x2="286" y2="157.7" stroke="#111" stroke-width="0.7"/>
<line x1="319" y1="109.0" x2="319" y2="177.05" stroke="#222" stroke-width="0.75"/>
<line x1="316.6" y1="176.75" x2="319" y2="176.75" stroke="#222" stroke-width="0.7"/>
<text x="313.40000000000003" y="178.3" font-size="4.4" font-weight="bold" textLength="2.40" lengthAdjust="spacingAndGlyphs" fill="#333">0</text>
<line x1="316.6" y1="159.9" x2="319" y2="159.9" stroke="#222" stroke-width="0.7"/>
<text x="311.0" y="161.45000000000002" font-size="4.4" font-weight="bold" textLength="4.80" lengthAdjust="spacingAndGlyphs" fill="#333">25</text>
<line x1="316.6" y1="143.1" x2="319" y2="143.1" stroke="#222" stroke-width="0.7"/>
<text x="311.0" y="144.65" font-size="4.4" font-weight="bold" textLength="4.80" lengthAdjust="spacingAndGlyphs" fill="#333">50</text>
<line x1="316.6" y1="126.2" x2="319" y2="126.2" stroke="#222" stroke-width="0.7"/>
<text x="311.0" y="127.75" font-size="4.4" font-weight="bold" textLength="4.80" lengthAdjust="spacingAndGlyphs" fill="#333">75</text>
<line x1="316.6" y1="109.4" x2="319" y2="109.4" stroke="#222" stroke-width="0.7"/>
<text x="308.6" y="110.95" font-size="4.4" font-weight="bold" textLength="7.20" lengthAdjust="spacingAndGlyphs" fill="#333">100</text>
<line x1="317" y1="176.75" x2="387.8" y2="176.75" stroke="#222" stroke-width="0.75"/>
<line x1="329.3" y1="176.75" x2="329.3" y2="178.55" stroke="#222" stroke-width="0.7"/>
<line x1="345.5" y1="176.75" x2="345.5" y2="178.55" stroke="#222" stroke-width="0.7"/>
<line x1="360.65" y1="176.75" x2="360.65" y2="178.55" stroke="#222" stroke-width="0.7"/>
<line x1="376.4" y1="176.75" x2="376.4" y2="178.55" stroke="#222" stroke-width="0.7"/>
<text x="325.9" y="184.9" font-size="4.9" font-weight="bold" textLength="7.20" lengthAdjust="spacingAndGlyphs" fill="#222">HC</text>
<text x="340.3" y="184.9" font-size="4.9" font-weight="bold" textLength="10.30" lengthAdjust="spacingAndGlyphs" fill="#222">Imm</text>
<text x="355.6" y="184.9" font-size="4.9" font-weight="bold" textLength="9.90" lengthAdjust="spacingAndGlyphs" fill="#222">Mild</text>
<text x="367.8" y="184.9" font-size="4.9" font-weight="bold" textLength="15.70" lengthAdjust="spacingAndGlyphs" fill="#222">Severe</text>
<text transform="translate(297.4,159.7) rotate(-90)" font-size="5.6" font-weight="bold" textLength="34.10" lengthAdjust="spacingAndGlyphs" fill="#111">Swi Memory</text>
<text transform="translate(304.3,160.5) rotate(-90)" font-size="5.6" font-weight="bold" textLength="35.50" lengthAdjust="spacingAndGlyphs" fill="#111">(% of CD27+)</text>
<path d="M329.25,112 L329.25,80.5 L376.3,80.5 L376.3,88.7" fill="none" stroke="#222" stroke-width="0.75"/>
<text x="344.25" y="78.5" font-size="5.0" font-weight="normal" textLength="20.25" lengthAdjust="spacingAndGlyphs" fill="#222">p=0.0509</text>
<path d="M345.1,112 L345.1,91.2 L376.3,91.2 L376.3,101" fill="none" stroke="#222" stroke-width="0.75"/>
<circle cx="360.5" cy="86.8" r="1.15" fill="#111"/>
<path d="M360.5,118.5 L360.5,104.4 L376.3,104.4 L376.3,107.2" fill="none" stroke="#222" stroke-width="0.75"/>
<circle cx="366.3" cy="99.89999999999999" r="1.15" fill="#111"/>
<circle cx="370.2" cy="99.89999999999999" r="1.15" fill="#111"/>
<circle cx="328" cy="121.9" r="1.55" fill="#ffffff" stroke="#8a8a8a" stroke-width="0.7"/>
<circle cx="331.4" cy="122.8" r="1.55" fill="#ffffff" stroke="#8a8a8a" stroke-width="0.7"/>
<circle cx="326.1" cy="125.4" r="1.55" fill="#ffffff" stroke="#8a8a8a" stroke-width="0.7"/>
<circle cx="330.5" cy="126.3" r="1.55" fill="#ffffff" stroke="#8a8a8a" stroke-width="0.7"/>
<circle cx="333.1" cy="126.3" r="1.55" fill="#ffffff" stroke="#8a8a8a" stroke-width="0.7"/>
<circle cx="327" cy="128.9" r="1.55" fill="#ffffff" stroke="#8a8a8a" stroke-width="0.7"/>
<circle cx="330.5" cy="128" r="1.55" fill="#ffffff" stroke="#8a8a8a" stroke-width="0.7"/>
<circle cx="333.1" cy="128.9" r="1.55" fill="#ffffff" stroke="#8a8a8a" stroke-width="0.7"/>
<circle cx="327" cy="131.5" r="1.55" fill="#ffffff" stroke="#8a8a8a" stroke-width="0.7"/>
<circle cx="330.5" cy="131.5" r="1.55" fill="#ffffff" stroke="#8a8a8a" stroke-width="0.7"/>
<circle cx="328.8" cy="137.6" r="1.55" fill="#ffffff" stroke="#8a8a8a" stroke-width="0.7"/>
<circle cx="328.8" cy="142" r="1.55" fill="#ffffff" stroke="#8a8a8a" stroke-width="0.7"/>
<circle cx="328.8" cy="152.5" r="1.55" fill="#ffffff" stroke="#8a8a8a" stroke-width="0.7"/>
<line x1="324.5" y1="132.4" x2="334.5" y2="132.4" stroke="#111" stroke-width="0.7"/>
<circle cx="344.5" cy="116.6" r="1.55" fill="#959595" stroke="#4e4e4e" stroke-width="0.7"/>
<circle cx="346.2" cy="115.8" r="1.55" fill="#959595" stroke="#4e4e4e" stroke-width="0.7"/>
<circle cx="341.9" cy="121.9" r="1.55" fill="#959595" stroke="#4e4e4e" stroke-width="0.7"/>
<circle cx="346.2" cy="121" r="1.55" fill="#959595" stroke="#4e4e4e" stroke-width="0.7"/>
<circle cx="348.9" cy="122.8" r="1.55" fill="#959595" stroke="#4e4e4e" stroke-width="0.7"/>
<circle cx="343.6" cy="126.3" r="1.55" fill="#959595" stroke="#4e4e4e" stroke-width="0.7"/>
<circle cx="347.1" cy="125.4" r="1.55" fill="#959595" stroke="#4e4e4e" stroke-width="0.7"/>
<circle cx="341.9" cy="129.8" r="1.55" fill="#959595" stroke="#4e4e4e" stroke-width="0.7"/>
<circle cx="346.2" cy="128.9" r="1.55" fill="#959595" stroke="#4e4e4e" stroke-width="0.7"/>
<circle cx="343.6" cy="132.4" r="1.55" fill="#959595" stroke="#4e4e4e" stroke-width="0.7"/>
<circle cx="348" cy="133.3" r="1.55" fill="#959595" stroke="#4e4e4e" stroke-width="0.7"/>
<circle cx="344.5" cy="135.9" r="1.55" fill="#959595" stroke="#4e4e4e" stroke-width="0.7"/>
<circle cx="344.5" cy="141.1" r="1.55" fill="#959595" stroke="#4e4e4e" stroke-width="0.7"/>
<circle cx="346.2" cy="142" r="1.55" fill="#959595" stroke="#4e4e4e" stroke-width="0.7"/>
<circle cx="343.6" cy="145.5" r="1.55" fill="#959595" stroke="#4e4e4e" stroke-width="0.7"/>
<circle cx="347.1" cy="146.4" r="1.55" fill="#959595" stroke="#4e4e4e" stroke-width="0.7"/>
<circle cx="343.6" cy="149.9" r="1.55" fill="#959595" stroke="#4e4e4e" stroke-width="0.7"/>
<circle cx="346.2" cy="151.6" r="1.55" fill="#959595" stroke="#4e4e4e" stroke-width="0.7"/>
<circle cx="344.5" cy="153.4" r="1.55" fill="#959595" stroke="#4e4e4e" stroke-width="0.7"/>
<line x1="340.5" y1="132.4" x2="350.5" y2="132.4" stroke="#111" stroke-width="0.7"/>
<circle cx="360.3" cy="121" r="1.55" fill="#f2a4ac" stroke="#c04c5c" stroke-width="0.7"/>
<circle cx="356.8" cy="128.9" r="1.55" fill="#f2a4ac" stroke="#c04c5c" stroke-width="0.7"/>
<circle cx="357.6" cy="132.4" r="1.55" fill="#f2a4ac" stroke="#c04c5c" stroke-width="0.7"/>
<circle cx="362" cy="131.5" r="1.55" fill="#f2a4ac" stroke="#c04c5c" stroke-width="0.7"/>
<circle cx="356.8" cy="135" r="1.55" fill="#f2a4ac" stroke="#c04c5c" stroke-width="0.7"/>
<circle cx="361.1" cy="135" r="1.55" fill="#f2a4ac" stroke="#c04c5c" stroke-width="0.7"/>
<circle cx="363.8" cy="135.9" r="1.55" fill="#f2a4ac" stroke="#c04c5c" stroke-width="0.7"/>
<circle cx="358.5" cy="137.6" r="1.55" fill="#f2a4ac" stroke="#c04c5c" stroke-width="0.7"/>
<circle cx="362" cy="138.5" r="1.55" fill="#f2a4ac" stroke="#c04c5c" stroke-width="0.7"/>
<circle cx="359.4" cy="144.6" r="1.55" fill="#f2a4ac" stroke="#c04c5c" stroke-width="0.7"/>
<circle cx="362" cy="145.5" r="1.55" fill="#f2a4ac" stroke="#c04c5c" stroke-width="0.7"/>
<line x1="355.5" y1="135" x2="365.5" y2="135" stroke="#111" stroke-width="0.7"/>
<circle cx="375.6" cy="111.4" r="1.55" fill="#e63a48" stroke="#a01828" stroke-width="0.7"/>
<circle cx="373.4" cy="117.5" r="1.55" fill="#e63a48" stroke="#a01828" stroke-width="0.7"/>
<circle cx="378.6" cy="117.5" r="1.55" fill="#e63a48" stroke="#a01828" stroke-width="0.7"/>
<circle cx="374.2" cy="121" r="1.55" fill="#e63a48" stroke="#a01828" stroke-width="0.7"/>
<circle cx="378.6" cy="121.9" r="1.55" fill="#e63a48" stroke="#a01828" stroke-width="0.7"/>
<circle cx="372.5" cy="123.6" r="1.55" fill="#e63a48" stroke="#a01828" stroke-width="0.7"/>
<circle cx="376" cy="122.8" r="1.55" fill="#e63a48" stroke="#a01828" stroke-width="0.7"/>
<circle cx="379.5" cy="125.4" r="1.55" fill="#e63a48" stroke="#a01828" stroke-width="0.7"/>
<circle cx="373.4" cy="128" r="1.55" fill="#e63a48" stroke="#a01828" stroke-width="0.7"/>
<circle cx="377.8" cy="127.2" r="1.55" fill="#e63a48" stroke="#a01828" stroke-width="0.7"/>
<circle cx="372.5" cy="129.8" r="1.55" fill="#e63a48" stroke="#a01828" stroke-width="0.7"/>
<circle cx="376" cy="129.8" r="1.55" fill="#e63a48" stroke="#a01828" stroke-width="0.7"/>
<circle cx="379.5" cy="130.6" r="1.55" fill="#e63a48" stroke="#a01828" stroke-width="0.7"/>
<circle cx="376.9" cy="135" r="1.55" fill="#e63a48" stroke="#a01828" stroke-width="0.7"/>
<circle cx="374.2" cy="137.6" r="1.55" fill="#e63a48" stroke="#a01828" stroke-width="0.7"/>
<line x1="371" y1="125.4" x2="381" y2="125.4" stroke="#111" stroke-width="0.7"/>
<line x1="234.3" y1="223.79999999999998" x2="234.3" y2="284.5" stroke="#222" stroke-width="0.75"/>
<line x1="231.9" y1="284.2" x2="234.3" y2="284.2" stroke="#222" stroke-width="0.7"/>
<text x="228.70000000000002" y="285.75" font-size="4.4" font-weight="bold" textLength="2.40" lengthAdjust="spacingAndGlyphs" fill="#333">0</text>
<line x1="231.9" y1="264.2" x2="234.3" y2="264.2" stroke="#222" stroke-width="0.7"/>
<text x="226.3" y="265.75" font-size="4.4" font-weight="bold" textLength="4.80" lengthAdjust="spacingAndGlyphs" fill="#333">10</text>
<line x1="231.9" y1="244.1" x2="234.3" y2="244.1" stroke="#222" stroke-width="0.7"/>
<text x="226.3" y="245.65" font-size="4.4" font-weight="bold" textLength="4.80" lengthAdjust="spacingAndGlyphs" fill="#333">20</text>
<line x1="231.9" y1="224.1" x2="234.3" y2="224.1" stroke="#222" stroke-width="0.7"/>
<text x="226.3" y="225.65" font-size="4.4" font-weight="bold" textLength="4.80" lengthAdjust="spacingAndGlyphs" fill="#333">30</text>
<line x1="231" y1="284.4" x2="294" y2="284.4" stroke="#222" stroke-width="0.75"/>
<line x1="243.1" y1="284.4" x2="243.1" y2="286.2" stroke="#222" stroke-width="0.7"/>
<line x1="256.25" y1="284.4" x2="256.25" y2="286.2" stroke="#222" stroke-width="0.7"/>
<line x1="271.1" y1="284.4" x2="271.1" y2="286.2" stroke="#222" stroke-width="0.7"/>
<line x1="285.65" y1="284.4" x2="285.65" y2="286.2" stroke="#222" stroke-width="0.7"/>
<text x="240.85" y="292.1" font-size="4.6" font-weight="bold" textLength="6.30" lengthAdjust="spacingAndGlyphs" fill="#222">HC</text>
<text x="252.75" y="292.1" font-size="4.6" font-weight="bold" textLength="9.10" lengthAdjust="spacingAndGlyphs" fill="#222">Imm</text>
<text x="267.2" y="292.1" font-size="4.6" font-weight="bold" textLength="8.30" lengthAdjust="spacingAndGlyphs" fill="#222">Mild</text>
<text x="277.25" y="292.1" font-size="4.6" font-weight="bold" textLength="14.85" lengthAdjust="spacingAndGlyphs" fill="#222">Severe</text>
<text transform="translate(217.8,272.5) rotate(-90)" font-size="5.2" font-weight="bold" textLength="36.70" lengthAdjust="spacingAndGlyphs" fill="#111">Unswi Memory</text>
<text transform="translate(223.2,270.6) rotate(-90)" font-size="5.2" font-weight="bold" textLength="32.60" lengthAdjust="spacingAndGlyphs" fill="#111">(% of CD19+)</text>
<path d="M242.3,231.2 L242.3,202.75 L285.2,202.75 L285.2,208.7" fill="none" stroke="#222" stroke-width="0.75"/>
<text x="256.25" y="200.8" font-size="4.6" font-weight="normal" textLength="16.05" lengthAdjust="spacingAndGlyphs" fill="#222">p=0.096</text>
<path d="M257.3,225.2 L257.3,210.7 L285.2,210.7 L285.2,220" fill="none" stroke="#222" stroke-width="0.75"/>
<circle cx="271.7" cy="207.3" r="1.15" fill="#111"/>
<path d="M271.25,226.8 L271.25,222.3 L285.2,222.3 L285.2,257" fill="none" stroke="#222" stroke-width="0.75"/>
<circle cx="278.75" cy="218.8" r="1.15" fill="#111"/>
<circle cx="243" cy="243" r="1.55" fill="#ffffff" stroke="#8c8c8c" stroke-width="0.7"/>
<circle cx="241.6" cy="252" r="1.55" fill="#ffffff" stroke="#8c8c8c" stroke-width="0.7"/>
<circle cx="244.3" cy="250.5" r="1.55" fill="#ffffff" stroke="#8c8c8c" stroke-width="0.7"/>
<circle cx="243.6" cy="258.2" r="1.55" fill="#ffffff" stroke="#8c8c8c" stroke-width="0.7"/>
<circle cx="241.6" cy="265.9" r="1.55" fill="#ffffff" stroke="#8c8c8c" stroke-width="0.7"/>
<circle cx="245" cy="265.9" r="1.55" fill="#ffffff" stroke="#8c8c8c" stroke-width="0.7"/>
<circle cx="240.9" cy="268.6" r="1.55" fill="#ffffff" stroke="#8c8c8c" stroke-width="0.7"/>
<circle cx="243.6" cy="268.6" r="1.55" fill="#ffffff" stroke="#8c8c8c" stroke-width="0.7"/>
<circle cx="246.2" cy="269.3" r="1.55" fill="#ffffff" stroke="#8c8c8c" stroke-width="0.7"/>
<circle cx="242.3" cy="271.4" r="1.55" fill="#ffffff" stroke="#8c8c8c" stroke-width="0.7"/>
<circle cx="244.6" cy="271.4" r="1.55" fill="#ffffff" stroke="#8c8c8c" stroke-width="0.7"/>
<circle cx="242.6" cy="274.2" r="1.55" fill="#ffffff" stroke="#8c8c8c" stroke-width="0.7"/>
<line x1="238.5" y1="262.2" x2="248.5" y2="262.2" stroke="#111" stroke-width="0.7"/>
<circle cx="257" cy="228.3" r="1.55" fill="#a8a0b4" stroke="#585068" stroke-width="0.7"/>
<circle cx="257.5" cy="240.9" r="1.55" fill="#a8a0b4" stroke="#585068" stroke-width="0.7"/>
<circle cx="260.3" cy="239.5" r="1.55" fill="#a8a0b4" stroke="#585068" stroke-width="0.7"/>
<circle cx="255.4" cy="258.2" r="1.55" fill="#a8a0b4" stroke="#585068" stroke-width="0.7"/>
<circle cx="258.2" cy="257.5" r="1.55" fill="#a8a0b4" stroke="#585068" stroke-width="0.7"/>
<circle cx="260.3" cy="256.8" r="1.55" fill="#a8a0b4" stroke="#585068" stroke-width="0.7"/>
<circle cx="254" cy="261" r="1.55" fill="#a8a0b4" stroke="#585068" stroke-width="0.7"/>
<circle cx="257.5" cy="261.7" r="1.55" fill="#a8a0b4" stroke="#585068" stroke-width="0.7"/>
<circle cx="260.3" cy="261" r="1.55" fill="#a8a0b4" stroke="#585068" stroke-width="0.7"/>
<circle cx="254.75" cy="265.9" r="1.55" fill="#a8a0b4" stroke="#585068" stroke-width="0.7"/>
<circle cx="256.8" cy="267.25" r="1.55" fill="#a8a0b4" stroke="#585068" stroke-width="0.7"/>
<circle cx="254" cy="270.7" r="1.55" fill="#a8a0b4" stroke="#585068" stroke-width="0.7"/>
<circle cx="256.8" cy="270.7" r="1.55" fill="#a8a0b4" stroke="#585068" stroke-width="0.7"/>
<circle cx="257.5" cy="273.5" r="1.55" fill="#a8a0b4" stroke="#585068" stroke-width="0.7"/>
<circle cx="256.8" cy="277" r="1.55" fill="#a8a0b4" stroke="#585068" stroke-width="0.7"/>
<circle cx="254.75" cy="279.8" r="1.55" fill="#a8a0b4" stroke="#585068" stroke-width="0.7"/>
<circle cx="258.2" cy="279.1" r="1.55" fill="#a8a0b4" stroke="#585068" stroke-width="0.7"/>
<circle cx="261" cy="279.1" r="1.55" fill="#a8a0b4" stroke="#585068" stroke-width="0.7"/>
<line x1="252.3" y1="260.7" x2="262.3" y2="260.7" stroke="#111" stroke-width="0.7"/>
<circle cx="271.6" cy="230" r="1.55" fill="#f8d4d8" stroke="#d0607a" stroke-width="0.7"/>
<circle cx="271.6" cy="232.8" r="1.55" fill="#f8d4d8" stroke="#d0607a" stroke-width="0.7"/>
<circle cx="272.5" cy="254" r="1.55" fill="#f8d4d8" stroke="#d0607a" stroke-width="0.7"/>
<circle cx="269.8" cy="255.8" r="1.55" fill="#f8d4d8" stroke="#d0607a" stroke-width="0.7"/>
<circle cx="268.9" cy="264" r="1.55" fill="#f8d4d8" stroke="#d0607a" stroke-width="0.7"/>
<circle cx="272.5" cy="264" r="1.55" fill="#f8d4d8" stroke="#d0607a" stroke-width="0.7"/>
<circle cx="269.8" cy="267.7" r="1.55" fill="#f8d4d8" stroke="#d0607a" stroke-width="0.7"/>
<circle cx="273.5" cy="268.6" r="1.55" fill="#f8d4d8" stroke="#d0607a" stroke-width="0.7"/>
<circle cx="268.9" cy="276" r="1.55" fill="#f8d4d8" stroke="#d0607a" stroke-width="0.7"/>
<circle cx="272.5" cy="275" r="1.55" fill="#f8d4d8" stroke="#d0607a" stroke-width="0.7"/>
<circle cx="275.3" cy="275" r="1.55" fill="#f8d4d8" stroke="#d0607a" stroke-width="0.7"/>
<line x1="266" y1="260" x2="276" y2="260" stroke="#111" stroke-width="0.7"/>
<circle cx="282.6" cy="260.4" r="1.6" fill="#d43444" stroke="#901a28" stroke-width="0.7"/>
<circle cx="286.3" cy="261.3" r="1.6" fill="#d43444" stroke="#901a28" stroke-width="0.7"/>
<circle cx="284.5" cy="264" r="1.6" fill="#d43444" stroke="#901a28" stroke-width="0.7"/>
<circle cx="282.6" cy="268.6" r="1.6" fill="#d43444" stroke="#901a28" stroke-width="0.7"/>
<circle cx="286.3" cy="267.7" r="1.6" fill="#d43444" stroke="#901a28" stroke-width="0.7"/>
<circle cx="289" cy="269.5" r="1.6" fill="#d43444" stroke="#901a28" stroke-width="0.7"/>
<circle cx="283.5" cy="271.4" r="1.6" fill="#d43444" stroke="#901a28" stroke-width="0.7"/>
<circle cx="287.2" cy="271.4" r="1.6" fill="#d43444" stroke="#901a28" stroke-width="0.7"/>
<circle cx="282.6" cy="275" r="1.6" fill="#d43444" stroke="#901a28" stroke-width="0.7"/>
<circle cx="286.3" cy="276" r="1.6" fill="#d43444" stroke="#901a28" stroke-width="0.7"/>
<circle cx="289" cy="275" r="1.6" fill="#d43444" stroke="#901a28" stroke-width="0.7"/>
<circle cx="285.4" cy="279.6" r="1.6" fill="#d43444" stroke="#901a28" stroke-width="0.7"/>
<line x1="279.8" y1="268" x2="289.8" y2="268" stroke="#111" stroke-width="0.7"/>
<line x1="331.4" y1="222.0" x2="331.4" y2="284.7" stroke="#222" stroke-width="0.75"/>
<line x1="329.0" y1="284.4" x2="331.4" y2="284.4" stroke="#222" stroke-width="0.7"/>
<text x="325.8" y="285.95" font-size="4.4" font-weight="bold" textLength="2.40" lengthAdjust="spacingAndGlyphs" fill="#333">0</text>
<line x1="329.0" y1="268.75" x2="331.4" y2="268.75" stroke="#222" stroke-width="0.7"/>
<text x="323.4" y="270.3" font-size="4.4" font-weight="bold" textLength="4.80" lengthAdjust="spacingAndGlyphs" fill="#333">20</text>
<line x1="329.0" y1="253.5" x2="331.4" y2="253.5" stroke="#222" stroke-width="0.7"/>
<text x="323.4" y="255.05" font-size="4.4" font-weight="bold" textLength="4.80" lengthAdjust="spacingAndGlyphs" fill="#333">40</text>
<line x1="329.0" y1="237.9" x2="331.4" y2="237.9" stroke="#222" stroke-width="0.7"/>
<text x="323.4" y="239.45000000000002" font-size="4.4" font-weight="bold" textLength="4.80" lengthAdjust="spacingAndGlyphs" fill="#333">60</text>
<line x1="329.0" y1="222.3" x2="331.4" y2="222.3" stroke="#222" stroke-width="0.7"/>
<text x="323.4" y="223.85000000000002" font-size="4.4" font-weight="bold" textLength="4.80" lengthAdjust="spacingAndGlyphs" fill="#333">80</text>
<line x1="331" y1="284.4" x2="393.9" y2="284.4" stroke="#222" stroke-width="0.75"/>
<line x1="340.9" y1="284.4" x2="340.9" y2="286.2" stroke="#222" stroke-width="0.7"/>
<line x1="354.9" y1="284.4" x2="354.9" y2="286.2" stroke="#222" stroke-width="0.7"/>
<line x1="368.9" y1="284.4" x2="368.9" y2="286.2" stroke="#222" stroke-width="0.7"/>
<line x1="382" y1="284.4" x2="382" y2="286.2" stroke="#222" stroke-width="0.7"/>
<text x="337.4" y="292.1" font-size="4.6" font-weight="bold" textLength="6.10" lengthAdjust="spacingAndGlyphs" fill="#222">HC</text>
<text x="349.6" y="292.1" font-size="4.6" font-weight="bold" textLength="8.80" lengthAdjust="spacingAndGlyphs" fill="#222">Imm</text>
<text x="364.8" y="292.1" font-size="4.6" font-weight="bold" textLength="8.60" lengthAdjust="spacingAndGlyphs" fill="#222">Mild</text>
<text x="375" y="292.1" font-size="4.6" font-weight="bold" textLength="14.90" lengthAdjust="spacingAndGlyphs" fill="#222">Severe</text>
<text transform="translate(314.4,268.8) rotate(-90)" font-size="5.2" font-weight="bold" textLength="31.40" lengthAdjust="spacingAndGlyphs" fill="#111">Swi Memory</text>
<text transform="translate(320.3,270) rotate(-90)" font-size="5.2" font-weight="bold" textLength="33.10" lengthAdjust="spacingAndGlyphs" fill="#111">(% of CD19+)</text>
<path d="M369.5,259.4 L369.5,229.3 L383.8,229.3 L383.8,232.4" fill="none" stroke="#222" stroke-width="0.75"/>
<circle cx="376.8" cy="225.4" r="1.15" fill="#111"/>
<circle cx="340.6" cy="251.1" r="1.55" fill="#ffffff" stroke="#8c8c8c" stroke-width="0.7"/>
<circle cx="340.6" cy="260.1" r="1.55" fill="#ffffff" stroke="#8c8c8c" stroke-width="0.7"/>
<circle cx="338.1" cy="265" r="1.55" fill="#ffffff" stroke="#8c8c8c" stroke-width="0.7"/>
<circle cx="342.2" cy="265" r="1.55" fill="#ffffff" stroke="#8c8c8c" stroke-width="0.7"/>
<circle cx="337.3" cy="269.3" r="1.55" fill="#ffffff" stroke="#8c8c8c" stroke-width="0.7"/>
<circle cx="340.6" cy="268.5" r="1.55" fill="#ffffff" stroke="#8c8c8c" stroke-width="0.7"/>
<circle cx="343.8" cy="269.8" r="1.55" fill="#ffffff" stroke="#8c8c8c" stroke-width="0.7"/>
<circle cx="339" cy="272.3" r="1.55" fill="#ffffff" stroke="#8c8c8c" stroke-width="0.7"/>
<circle cx="342.2" cy="273.1" r="1.55" fill="#ffffff" stroke="#8c8c8c" stroke-width="0.7"/>
<circle cx="338.1" cy="277.2" r="1.55" fill="#ffffff" stroke="#8c8c8c" stroke-width="0.7"/>
<circle cx="343" cy="277.2" r="1.55" fill="#ffffff" stroke="#8c8c8c" stroke-width="0.7"/>
<line x1="336" y1="269" x2="346" y2="269" stroke="#111" stroke-width="0.7"/>
<circle cx="354.7" cy="250" r="1.55" fill="#8c8c8c" stroke="#4a4a4a" stroke-width="0.7"/>
<circle cx="352" cy="258.5" r="1.55" fill="#8c8c8c" stroke="#4a4a4a" stroke-width="0.7"/>
<circle cx="356" cy="257.6" r="1.55" fill="#8c8c8c" stroke="#4a4a4a" stroke-width="0.7"/>
<circle cx="357.6" cy="260.1" r="1.55" fill="#8c8c8c" stroke="#4a4a4a" stroke-width="0.7"/>
<circle cx="355.2" cy="261.7" r="1.55" fill="#8c8c8c" stroke="#4a4a4a" stroke-width="0.7"/>
<circle cx="351.1" cy="268.5" r="1.55" fill="#8c8c8c" stroke="#4a4a4a" stroke-width="0.7"/>
<circle cx="354.4" cy="268" r="1.55" fill="#8c8c8c" stroke="#4a4a4a" stroke-width="0.7"/>
<circle cx="357.6" cy="268.5" r="1.55" fill="#8c8c8c" stroke="#4a4a4a" stroke-width="0.7"/>
<circle cx="352" cy="272.3" r="1.55" fill="#8c8c8c" stroke="#4a4a4a" stroke-width="0.7"/>
<circle cx="356" cy="272.3" r="1.55" fill="#8c8c8c" stroke="#4a4a4a" stroke-width="0.7"/>
<circle cx="352" cy="276.3" r="1.55" fill="#8c8c8c" stroke="#4a4a4a" stroke-width="0.7"/>
<circle cx="356" cy="275.5" r="1.55" fill="#8c8c8c" stroke="#4a4a4a" stroke-width="0.7"/>
<line x1="350" y1="266.6" x2="360" y2="266.6" stroke="#111" stroke-width="0.7"/>
<circle cx="370.7" cy="262.5" r="1.55" fill="#f8d4d8" stroke="#d0607a" stroke-width="0.7"/>
<circle cx="365.8" cy="265" r="1.55" fill="#f8d4d8" stroke="#d0607a" stroke-width="0.7"/>
<circle cx="369.8" cy="266.6" r="1.55" fill="#f8d4d8" stroke="#d0607a" stroke-width="0.7"/>
<circle cx="367.4" cy="269.8" r="1.55" fill="#f8d4d8" stroke="#d0607a" stroke-width="0.7"/>
<circle cx="371.5" cy="269" r="1.55" fill="#f8d4d8" stroke="#d0607a" stroke-width="0.7"/>
<circle cx="368.2" cy="273.1" r="1.55" fill="#f8d4d8" stroke="#d0607a" stroke-width="0.7"/>
<circle cx="369.8" cy="276.3" r="1.55" fill="#f8d4d8" stroke="#d0607a" stroke-width="0.7"/>
<circle cx="367.4" cy="277" r="1.55" fill="#f8d4d8" stroke="#d0607a" stroke-width="0.7"/>
<circle cx="367.4" cy="279.6" r="1.55" fill="#f8d4d8" stroke="#d0607a" stroke-width="0.7"/>
<line x1="364.2" y1="269" x2="374.2" y2="269" stroke="#111" stroke-width="0.7"/>
<circle cx="383.7" cy="235.7" r="1.6" fill="#d43444" stroke="#901a28" stroke-width="0.7"/>
<circle cx="383.7" cy="240.6" r="1.6" fill="#d43444" stroke="#901a28" stroke-width="0.7"/>
<circle cx="382" cy="254.4" r="1.6" fill="#d43444" stroke="#901a28" stroke-width="0.7"/>
<circle cx="386.1" cy="256" r="1.6" fill="#d43444" stroke="#901a28" stroke-width="0.7"/>
<circle cx="380.4" cy="262.5" r="1.6" fill="#d43444" stroke="#901a28" stroke-width="0.7"/>
<circle cx="385.3" cy="261.7" r="1.6" fill="#d43444" stroke="#901a28" stroke-width="0.7"/>
<circle cx="386.9" cy="260.9" r="1.6" fill="#d43444" stroke="#901a28" stroke-width="0.7"/>
<circle cx="382" cy="266.6" r="1.6" fill="#d43444" stroke="#901a28" stroke-width="0.7"/>
<circle cx="386.1" cy="267.4" r="1.6" fill="#d43444" stroke="#901a28" stroke-width="0.7"/>
<circle cx="382" cy="272.3" r="1.6" fill="#d43444" stroke="#901a28" stroke-width="0.7"/>
<circle cx="385.3" cy="273.1" r="1.6" fill="#d43444" stroke="#901a28" stroke-width="0.7"/>
<circle cx="382" cy="276.3" r="1.6" fill="#d43444" stroke="#901a28" stroke-width="0.7"/>
<circle cx="385.3" cy="278" r="1.6" fill="#d43444" stroke="#901a28" stroke-width="0.7"/>
<line x1="378.5" y1="264.1" x2="388.5" y2="264.1" stroke="#111" stroke-width="0.7"/>
<line x1="31.1" y1="254.2" x2="31.1" y2="324.7" stroke="#222" stroke-width="0.75"/>
<line x1="28.900000000000002" y1="324.4" x2="31.1" y2="324.4" stroke="#222" stroke-width="0.7"/>
<text x="25.6" y="326.0" font-size="4.4" font-weight="bold" textLength="2.50" lengthAdjust="spacingAndGlyphs" fill="#333">0</text>
<line x1="28.900000000000002" y1="307" x2="31.1" y2="307" stroke="#222" stroke-width="0.7"/>
<text x="25.6" y="308.6" font-size="4.4" font-weight="bold" textLength="2.50" lengthAdjust="spacingAndGlyphs" fill="#333">5</text>
<line x1="28.900000000000002" y1="289.5" x2="31.1" y2="289.5" stroke="#222" stroke-width="0.7"/>
<text x="23.1" y="291.1" font-size="4.4" font-weight="bold" textLength="5.00" lengthAdjust="spacingAndGlyphs" fill="#333">10</text>
<line x1="28.900000000000002" y1="272" x2="31.1" y2="272" stroke="#222" stroke-width="0.7"/>
<text x="23.1" y="273.6" font-size="4.4" font-weight="bold" textLength="5.00" lengthAdjust="spacingAndGlyphs" fill="#333">15</text>
<line x1="28.900000000000002" y1="254.5" x2="31.1" y2="254.5" stroke="#222" stroke-width="0.7"/>
<text x="23.1" y="256.1" font-size="4.4" font-weight="bold" textLength="5.00" lengthAdjust="spacingAndGlyphs" fill="#333">20</text>
<line x1="30.6" y1="324.7" x2="102" y2="324.7" stroke="#222" stroke-width="0.75"/>
<line x1="32" y1="324.7" x2="32" y2="326.8" stroke="#222" stroke-width="0.7"/>
<text x="30.85" y="332.6" font-size="4.4" font-weight="bold" textLength="2.30" lengthAdjust="spacingAndGlyphs" fill="#333">0</text>
<line x1="54.6" y1="324.7" x2="54.6" y2="326.8" stroke="#222" stroke-width="0.7"/>
<text x="52.300000000000004" y="332.6" font-size="4.4" font-weight="bold" textLength="4.60" lengthAdjust="spacingAndGlyphs" fill="#333">10</text>
<line x1="78" y1="324.7" x2="78" y2="326.8" stroke="#222" stroke-width="0.7"/>
<text x="75.7" y="332.6" font-size="4.4" font-weight="bold" textLength="4.60" lengthAdjust="spacingAndGlyphs" fill="#333">20</text>
<line x1="101.4" y1="324.7" x2="101.4" y2="326.8" stroke="#222" stroke-width="0.7"/>
<text x="99.10000000000001" y="332.6" font-size="4.4" font-weight="bold" textLength="4.60" lengthAdjust="spacingAndGlyphs" fill="#333">30</text>
<text transform="translate(18.9,310.6) rotate(-90)" font-size="6.0" font-weight="bold" textLength="41.80" lengthAdjust="spacingAndGlyphs" fill="#111">TNF-α (pg/mL)</text>
<text x="50" y="341" font-size="6.0" font-weight="bold" textLength="35.00" lengthAdjust="spacingAndGlyphs" fill="#111">Unswi Mem</text>
<text x="48.6" y="348" font-size="6.0" font-weight="bold" textLength="37.40" lengthAdjust="spacingAndGlyphs" fill="#111">(% of CD19+)</text>
<text x="76.2" y="260" font-size="5.7" font-weight="normal" textLength="26.30" lengthAdjust="spacingAndGlyphs" fill="#222">p=0.0303</text>
<text x="76.2" y="266.5" font-size="5.7" font-weight="normal" textLength="26.80" lengthAdjust="spacingAndGlyphs" fill="#222">r=-0.4535</text>
<circle cx="39.7" cy="302.6" r="1.5" fill="#c4c4c4" stroke="#686868" stroke-width="0.7"/>
<circle cx="53.7" cy="307.9" r="1.5" fill="#c4c4c4" stroke="#686868" stroke-width="0.7"/>
<circle cx="56.8" cy="310.8" r="1.5" fill="#c4c4c4" stroke="#686868" stroke-width="0.7"/>
<circle cx="58.8" cy="312.4" r="1.5" fill="#c4c4c4" stroke="#686868" stroke-width="0.7"/>
<circle cx="62" cy="313.3" r="1.5" fill="#c4c4c4" stroke="#686868" stroke-width="0.7"/>
<circle cx="62" cy="311.4" r="1.5" fill="#c4c4c4" stroke="#686868" stroke-width="0.7"/>
<circle cx="42" cy="313.3" r="1.5" fill="#c4c4c4" stroke="#686868" stroke-width="0.7"/>
<circle cx="44.6" cy="312.8" r="1.5" fill="#c4c4c4" stroke="#686868" stroke-width="0.7"/>
<circle cx="80.5" cy="313" r="1.5" fill="#c4c4c4" stroke="#686868" stroke-width="0.7"/>
<circle cx="82.5" cy="313" r="1.5" fill="#c4c4c4" stroke="#686868" stroke-width="0.7"/>
<circle cx="41.7" cy="291" r="1.5" fill="#dcacb2" stroke="#9a5c66" stroke-width="0.7"/>
<circle cx="53.7" cy="301.3" r="1.5" fill="#dcacb2" stroke="#9a5c66" stroke-width="0.7"/>
<circle cx="66" cy="312" r="1.5" fill="#dcacb2" stroke="#9a5c66" stroke-width="0.7"/>
<circle cx="67.3" cy="313.3" r="1.5" fill="#dcacb2" stroke="#9a5c66" stroke-width="0.7"/>
<circle cx="50.4" cy="315.7" r="1.5" fill="#dcacb2" stroke="#9a5c66" stroke-width="0.7"/>
<circle cx="93.8" cy="310.8" r="1.5" fill="#dcacb2" stroke="#9a5c66" stroke-width="0.7"/>
<circle cx="41.7" cy="261.8" r="1.55" fill="#c42a3c" stroke="#861624" stroke-width="0.7"/>
<circle cx="46.5" cy="284.6" r="1.55" fill="#c42a3c" stroke="#861624" stroke-width="0.7"/>
<circle cx="49" cy="284.6" r="1.55" fill="#c42a3c" stroke="#861624" stroke-width="0.7"/>
<circle cx="55.7" cy="287.1" r="1.55" fill="#c42a3c" stroke="#861624" stroke-width="0.7"/>
<circle cx="46.5" cy="291" r="1.55" fill="#c42a3c" stroke="#861624" stroke-width="0.7"/>
<circle cx="38.7" cy="294.9" r="1.55" fill="#c42a3c" stroke="#861624" stroke-width="0.7"/>
<circle cx="59.2" cy="295.4" r="1.55" fill="#c42a3c" stroke="#861624" stroke-width="0.7"/>
<circle cx="43.6" cy="298.2" r="1.55" fill="#c42a3c" stroke="#861624" stroke-width="0.7"/>
<circle cx="41.7" cy="299.3" r="1.55" fill="#c42a3c" stroke="#861624" stroke-width="0.7"/>
<circle cx="35.4" cy="302.6" r="1.55" fill="#c42a3c" stroke="#861624" stroke-width="0.7"/>
<circle cx="47.9" cy="301.3" r="1.55" fill="#c42a3c" stroke="#861624" stroke-width="0.7"/>
<circle cx="58.2" cy="300.7" r="1.55" fill="#c42a3c" stroke="#861624" stroke-width="0.7"/>
<line x1="35.8" y1="293.9" x2="93.8" y2="317.6" stroke="#333" stroke-width="0.8"/>
<line x1="135" y1="254.2" x2="135" y2="324.7" stroke="#222" stroke-width="0.75"/>
<line x1="132.8" y1="324.4" x2="135" y2="324.4" stroke="#222" stroke-width="0.7"/>
<text x="129.5" y="326.0" font-size="4.4" font-weight="bold" textLength="2.50" lengthAdjust="spacingAndGlyphs" fill="#333">0</text>
<line x1="132.8" y1="307" x2="135" y2="307" stroke="#222" stroke-width="0.7"/>
<text x="129.5" y="308.6" font-size="4.4" font-weight="bold" textLength="2.50" lengthAdjust="spacingAndGlyphs" fill="#333">5</text>
<line x1="132.8" y1="289.5" x2="135" y2="289.5" stroke="#222" stroke-width="0.7"/>
<text x="127.0" y="291.1" font-size="4.4" font-weight="bold" textLength="5.00" lengthAdjust="spacingAndGlyphs" fill="#333">10</text>
<line x1="132.8" y1="272" x2="135" y2="272" stroke="#222" stroke-width="0.7"/>
<text x="127.0" y="273.6" font-size="4.4" font-weight="bold" textLength="5.00" lengthAdjust="spacingAndGlyphs" fill="#333">15</text>
<line x1="132.8" y1="254.5" x2="135" y2="254.5" stroke="#222" stroke-width="0.7"/>
<text x="127.0" y="256.1" font-size="4.4" font-weight="bold" textLength="5.00" lengthAdjust="spacingAndGlyphs" fill="#333">20</text>
<line x1="131" y1="324.7" x2="205" y2="324.7" stroke="#222" stroke-width="0.75"/>
<line x1="135" y1="324.7" x2="135" y2="326.8" stroke="#222" stroke-width="0.7"/>
<text x="133.85" y="332.6" font-size="4.4" font-weight="bold" textLength="2.30" lengthAdjust="spacingAndGlyphs" fill="#333">0</text>
<line x1="152.4" y1="324.7" x2="152.4" y2="326.8" stroke="#222" stroke-width="0.7"/>
<text x="150.1" y="332.6" font-size="4.4" font-weight="bold" textLength="4.60" lengthAdjust="spacingAndGlyphs" fill="#333">20</text>
<line x1="170" y1="324.7" x2="170" y2="326.8" stroke="#222" stroke-width="0.7"/>
<text x="167.7" y="332.6" font-size="4.4" font-weight="bold" textLength="4.60" lengthAdjust="spacingAndGlyphs" fill="#333">40</text>
<line x1="187.4" y1="324.7" x2="187.4" y2="326.8" stroke="#222" stroke-width="0.7"/>
<text x="185.1" y="332.6" font-size="4.4" font-weight="bold" textLength="4.60" lengthAdjust="spacingAndGlyphs" fill="#333">60</text>
<line x1="204.6" y1="324.7" x2="204.6" y2="326.8" stroke="#222" stroke-width="0.7"/>
<text x="202.29999999999998" y="332.6" font-size="4.4" font-weight="bold" textLength="4.60" lengthAdjust="spacingAndGlyphs" fill="#333">80</text>
<text transform="translate(122.9,310.6) rotate(-90)" font-size="6.0" font-weight="bold" textLength="41.80" lengthAdjust="spacingAndGlyphs" fill="#111">TNF-α (pg/mL)</text>
<text x="158" y="341" font-size="6.0" font-weight="bold" textLength="26.00" lengthAdjust="spacingAndGlyphs" fill="#111">Swi Mem</text>
<text x="152" y="348" font-size="6.0" font-weight="bold" textLength="38.00" lengthAdjust="spacingAndGlyphs" fill="#111">(% of CD19+)</text>
<text x="180" y="260" font-size="5.7" font-weight="normal" textLength="25.50" lengthAdjust="spacingAndGlyphs" fill="#222">p=0.8116</text>
<text x="180" y="266.5" font-size="5.7" font-weight="normal" textLength="25.50" lengthAdjust="spacingAndGlyphs" fill="#222">r=-0.0462</text>
<circle cx="142.7" cy="311.4" r="1.5" fill="#c4c4c4" stroke="#686868" stroke-width="0.7"/>
<circle cx="144.7" cy="311.4" r="1.5" fill="#c4c4c4" stroke="#686868" stroke-width="0.7"/>
<circle cx="158.3" cy="311.4" r="1.5" fill="#c4c4c4" stroke="#686868" stroke-width="0.7"/>
<circle cx="165.5" cy="313.3" r="1.5" fill="#c4c4c4" stroke="#686868" stroke-width="0.7"/>
<circle cx="150.5" cy="312.4" r="1.5" fill="#c4c4c4" stroke="#686868" stroke-width="0.7"/>
<circle cx="142.7" cy="291.6" r="1.5" fill="#dcacb2" stroke="#9a5c66" stroke-width="0.7"/>
<circle cx="146.6" cy="308" r="1.5" fill="#dcacb2" stroke="#9a5c66" stroke-width="0.7"/>
<circle cx="149.6" cy="309.4" r="1.5" fill="#dcacb2" stroke="#9a5c66" stroke-width="0.7"/>
<circle cx="154.4" cy="311.4" r="1.5" fill="#dcacb2" stroke="#9a5c66" stroke-width="0.7"/>
<circle cx="152.5" cy="313.3" r="1.5" fill="#dcacb2" stroke="#9a5c66" stroke-width="0.7"/>
<circle cx="148.6" cy="313.3" r="1.5" fill="#dcacb2" stroke="#9a5c66" stroke-width="0.7"/>
<circle cx="145.7" cy="315.7" r="1.5" fill="#dcacb2" stroke="#9a5c66" stroke-width="0.7"/>
<circle cx="141.4" cy="261.8" r="1.55" fill="#c42a3c" stroke="#861624" stroke-width="0.7"/>
<circle cx="152.9" cy="284.7" r="1.55" fill="#c42a3c" stroke="#861624" stroke-width="0.7"/>
<circle cx="157.7" cy="287.5" r="1.55" fill="#c42a3c" stroke="#861624" stroke-width="0.7"/>
<circle cx="167.4" cy="284.6" r="1.55" fill="#c42a3c" stroke="#861624" stroke-width="0.7"/>
<circle cx="148.6" cy="291" r="1.55" fill="#c42a3c" stroke="#861624" stroke-width="0.7"/>
<circle cx="146" cy="295.2" r="1.55" fill="#c42a3c" stroke="#861624" stroke-width="0.7"/>
<circle cx="159.3" cy="295.8" r="1.55" fill="#c42a3c" stroke="#861624" stroke-width="0.7"/>
<circle cx="154.4" cy="298.3" r="1.55" fill="#c42a3c" stroke="#861624" stroke-width="0.7"/>
<circle cx="157.3" cy="300.7" r="1.55" fill="#c42a3c" stroke="#861624" stroke-width="0.7"/>
<circle cx="160.2" cy="299.7" r="1.55" fill="#c42a3c" stroke="#861624" stroke-width="0.7"/>
<circle cx="143.3" cy="301.3" r="1.55" fill="#c42a3c" stroke="#861624" stroke-width="0.7"/>
<circle cx="190" cy="302.6" r="1.55" fill="#c42a3c" stroke="#861624" stroke-width="0.7"/>
<line x1="145.7" y1="302.2" x2="189.4" y2="304" stroke="#333" stroke-width="0.8"/>
<circle cx="64.1" cy="357.1" r="1.9" fill="#c4c4c4" stroke="#686868" stroke-width="0.8"/>
<text x="72.4" y="359.4" font-size="6.4" font-weight="normal" textLength="31.60" lengthAdjust="spacingAndGlyphs" fill="#3a3a3a">Immunized</text>
<circle cx="109.5" cy="357.1" r="1.9" fill="#dcacb2" stroke="#9a5c66" stroke-width="0.8"/>
<text x="117.2" y="359.4" font-size="6.4" font-weight="normal" textLength="11.00" lengthAdjust="spacingAndGlyphs" fill="#3a3a3a">Mild</text>
<circle cx="133.7" cy="357.1" r="1.9" fill="#c42a3c" stroke="#861624" stroke-width="0.8"/>
<text x="142.5" y="359.4" font-size="6.4" font-weight="normal" textLength="19.30" lengthAdjust="spacingAndGlyphs" fill="#3a3a3a">Severe</text>
</svg>
</body></html>
